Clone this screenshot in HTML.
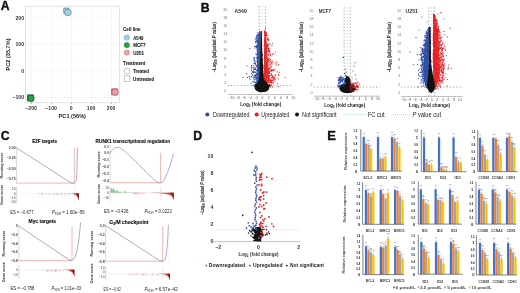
<!DOCTYPE html>
<html><head><meta charset="utf-8"><style>
html,body{margin:0;padding:0;background:#fff;overflow:hidden}
svg{display:block}
text{font-family:"Liberation Sans", "DejaVu Sans", sans-serif}
</style></head><body>
<svg width="520" height="293" viewBox="0 0 520 293">
<rect width="520" height="293" fill="#fff"/>
<text x="0.8" y="10.2" font-size="12.2" font-weight="bold" fill="#111" stroke="#111" stroke-width="0.35">A</text>
<text x="200.7" y="11.7" font-size="12.3" font-weight="bold" fill="#111" stroke="#111" stroke-width="0.35">B</text>
<text x="0.8" y="139.9" font-size="12.3" font-weight="bold" fill="#111" stroke="#111" stroke-width="0.35">C</text>
<text x="193.3" y="139.7" font-size="12.3" font-weight="bold" fill="#111" stroke="#111" stroke-width="0.35">D</text>
<text x="327.3" y="139.9" font-size="12.9" font-weight="bold" fill="#111" stroke="#111" stroke-width="0.35">E</text>
<rect x="25.3" y="6.2" width="94.10000000000001" height="96.6" fill="#fff" stroke="#cfcfcf" stroke-width="0.6"/>
<line x1="41.5" y1="6.2" x2="41.5" y2="102.8" stroke="#f4f4f4" stroke-width="0.4"/>
<line x1="61.5" y1="6.2" x2="61.5" y2="102.8" stroke="#f4f4f4" stroke-width="0.4"/>
<line x1="81.5" y1="6.2" x2="81.5" y2="102.8" stroke="#f4f4f4" stroke-width="0.4"/>
<line x1="101.5" y1="6.2" x2="101.5" y2="102.8" stroke="#f4f4f4" stroke-width="0.4"/>
<line x1="25.3" y1="31.25" x2="119.4" y2="31.25" stroke="#f4f4f4" stroke-width="0.4"/>
<line x1="25.3" y1="57.75" x2="119.4" y2="57.75" stroke="#f4f4f4" stroke-width="0.4"/>
<line x1="25.3" y1="84.25" x2="119.4" y2="84.25" stroke="#f4f4f4" stroke-width="0.4"/>
<line x1="31.5" y1="6.2" x2="31.5" y2="102.8" stroke="#ececec" stroke-width="0.5"/>
<line x1="51.5" y1="6.2" x2="51.5" y2="102.8" stroke="#ececec" stroke-width="0.5"/>
<line x1="71.5" y1="6.2" x2="71.5" y2="102.8" stroke="#ececec" stroke-width="0.5"/>
<line x1="91.5" y1="6.2" x2="91.5" y2="102.8" stroke="#ececec" stroke-width="0.5"/>
<line x1="111.5" y1="6.2" x2="111.5" y2="102.8" stroke="#ececec" stroke-width="0.5"/>
<line x1="25.3" y1="18.0" x2="119.4" y2="18.0" stroke="#ececec" stroke-width="0.5"/>
<line x1="25.3" y1="44.5" x2="119.4" y2="44.5" stroke="#ececec" stroke-width="0.5"/>
<line x1="25.3" y1="71.0" x2="119.4" y2="71.0" stroke="#ececec" stroke-width="0.5"/>
<line x1="25.3" y1="97.5" x2="119.4" y2="97.5" stroke="#ececec" stroke-width="0.5"/>
<text x="31.1" y="109.6" font-size="5.1" text-anchor="middle" font-weight="bold" fill="#333">&#8722;200</text>
<line x1="31.5" y1="102.8" x2="31.5" y2="104.0" stroke="#555" stroke-width="0.4"/>
<text x="51.1" y="109.6" font-size="5.1" text-anchor="middle" font-weight="bold" fill="#333">&#8722;100</text>
<line x1="51.5" y1="102.8" x2="51.5" y2="104.0" stroke="#555" stroke-width="0.4"/>
<text x="71.1" y="109.6" font-size="5.1" text-anchor="middle" font-weight="bold" fill="#333">0</text>
<line x1="71.5" y1="102.8" x2="71.5" y2="104.0" stroke="#555" stroke-width="0.4"/>
<text x="91.1" y="109.6" font-size="5.1" text-anchor="middle" font-weight="bold" fill="#333">100</text>
<line x1="91.5" y1="102.8" x2="91.5" y2="104.0" stroke="#555" stroke-width="0.4"/>
<text x="111.1" y="109.6" font-size="5.1" text-anchor="middle" font-weight="bold" fill="#333">200</text>
<line x1="111.5" y1="102.8" x2="111.5" y2="104.0" stroke="#555" stroke-width="0.4"/>
<text x="24.0" y="19.8" font-size="5.1" text-anchor="end" font-weight="bold" fill="#333">200</text>
<text x="24.0" y="46.3" font-size="5.1" text-anchor="end" font-weight="bold" fill="#333">100</text>
<text x="24.0" y="72.8" font-size="5.1" text-anchor="end" font-weight="bold" fill="#333">0</text>
<text x="24.0" y="99.3" font-size="5.1" text-anchor="end" font-weight="bold" fill="#333">&#8722;100</text>
<text x="72.3" y="117.5" font-size="5.6" text-anchor="middle" font-weight="bold" fill="#222">PC1 (56%)</text>
<text x="10.3" y="54.5" font-size="5.6" text-anchor="middle" font-weight="bold" fill="#222" transform="rotate(-90 10.3 54.5)">PC2 (35.7%)</text>
<rect x="63.8" y="8.1" width="5.0" height="5.0" fill="#aacfe0" stroke="#5a88a0" stroke-width="0.8"/>
<circle cx="67.9" cy="12.4" r="3.3" fill="#aacfe0" stroke="#5a88a0" stroke-width="0.8"/>
<rect x="27.5" y="94.9" width="6.0" height="6.0" fill="#2f9a48" stroke="#17642c" stroke-width="0.8"/>
<circle cx="31.0" cy="98.3" r="3.2" fill="#2f9a48" stroke="#17642c" stroke-width="0.8"/>
<rect x="111.69999999999999" y="88.89999999999999" width="5.8" height="5.8" fill="#eca2a6" stroke="#b4505a" stroke-width="0.8"/>
<circle cx="115.0" cy="92.2" r="3.3" fill="#eca2a6" stroke="#b4505a" stroke-width="0.8"/>
<text x="123.1" y="31.0" font-size="5.5" font-weight="bold" fill="#222" textLength="17.4" lengthAdjust="spacingAndGlyphs" stroke="#222" stroke-width="0.1">Cell line</text>
<circle cx="126.8" cy="37.6" r="2.7" fill="#aacfe0" stroke="#6b9fb8" stroke-width="0.5"/>
<text x="133.2" y="39.5" font-size="5.3" font-weight="bold" fill="#222" textLength="10.2" lengthAdjust="spacingAndGlyphs" stroke="#222" stroke-width="0.1">A549</text>
<circle cx="126.8" cy="45.1" r="2.7" fill="#2f9a48" stroke="#1c6e30" stroke-width="0.5"/>
<text x="133.2" y="47.0" font-size="5.3" font-weight="bold" fill="#222" textLength="12.3" lengthAdjust="spacingAndGlyphs" stroke="#222" stroke-width="0.1">MCF7</text>
<circle cx="126.8" cy="52.6" r="2.7" fill="#eca2a6" stroke="#c76a70" stroke-width="0.5"/>
<text x="133.2" y="54.5" font-size="5.3" font-weight="bold" fill="#222" textLength="10.8" lengthAdjust="spacingAndGlyphs" stroke="#222" stroke-width="0.1">U251</text>
<text x="123.1" y="64.6" font-size="5.5" font-weight="bold" fill="#222" textLength="22.3" lengthAdjust="spacingAndGlyphs" stroke="#222" stroke-width="0.1">Treatment</text>
<circle cx="127.1" cy="71.1" r="2.8" fill="#fff" stroke="#888" stroke-width="0.5"/>
<text x="133.1" y="73.0" font-size="5.3" font-weight="bold" fill="#222" textLength="16.0" lengthAdjust="spacingAndGlyphs" stroke="#222" stroke-width="0.1">Treated</text>
<rect x="124.3" y="75.8" width="5.6" height="5.6" fill="#fff" stroke="#999" stroke-width="0.5"/>
<text x="133.1" y="80.6" font-size="5.3" font-weight="bold" fill="#222" textLength="21.3" lengthAdjust="spacingAndGlyphs" stroke="#222" stroke-width="0.1">Untreated</text>
<text x="225.3" y="92.1" font-size="3.6" text-anchor="middle" fill="#777">0</text>
<text x="225.3" y="83.96" font-size="3.6" text-anchor="middle" fill="#777">2</text>
<text x="225.3" y="75.82" font-size="3.6" text-anchor="middle" fill="#777">4</text>
<text x="225.3" y="67.67999999999999" font-size="3.6" text-anchor="middle" fill="#777">6</text>
<text x="225.3" y="59.53999999999999" font-size="3.6" text-anchor="middle" fill="#777">8</text>
<text x="225.3" y="51.39999999999999" font-size="3.6" text-anchor="middle" fill="#777">10</text>
<text x="225.3" y="43.25999999999999" font-size="3.6" text-anchor="middle" fill="#777">12</text>
<text x="225.3" y="35.11999999999999" font-size="3.6" text-anchor="middle" fill="#777">14</text>
<text x="225.3" y="26.979999999999993" font-size="3.6" text-anchor="middle" fill="#777">16</text>
<text x="225.3" y="18.839999999999993" font-size="3.6" text-anchor="middle" fill="#777">18</text>
<text x="225.3" y="10.699999999999992" font-size="3.6" text-anchor="middle" fill="#777">20</text>
<text x="216.5" y="47.2" font-size="5" font-weight="bold" text-anchor="middle" fill="#333" stroke="#333" stroke-width="0.12" textLength="50" lengthAdjust="spacingAndGlyphs" transform="rotate(-90 216.5 47.2)">&#8211;Log<tspan font-size="3.5" dy="1">10</tspan><tspan dy="-1"> (adjusted </tspan><tspan font-style="italic">P</tspan> value)</text>
<text x="234.5" y="12.6" font-size="6.2" font-weight="bold" fill="#333" textLength="12.3" lengthAdjust="spacingAndGlyphs">A549</text>
<line x1="259.29999999999995" y1="6.143999999999991" x2="259.29999999999995" y2="94.5" stroke="#6f9a92" stroke-width="0.9" stroke-dasharray="1.1 2.15"/>
<line x1="265.5" y1="6.143999999999991" x2="265.5" y2="94.5" stroke="#6f9a92" stroke-width="0.9" stroke-dasharray="1.1 2.15"/>
<line x1="262.4" y1="6.143999999999991" x2="262.4" y2="94.5" stroke="#c4c4c4" stroke-width="0.7" stroke-dasharray="1.1 2.15"/>
<line x1="227.8" y1="85.509" x2="292.4" y2="85.509" stroke="#b8784a" stroke-width="0.8" stroke-dasharray="1.1 2.15"/>
<path d="M258.9 32.0 L257.4 36.0 L256.9 45.0 L256.9 55.0 L256.9 70.0 L256.4 80.0 L257.4 86.0 L259.9 89.0 L260.4 89.0 L260.4 86.0 L260.4 80.0 L260.4 70.0 L260.4 55.0 L260.4 45.0 L260.4 36.0 L260.4 32.0Z" fill="#2d4ea3" opacity="0.85"/>
<path d="M265.2 31.0 L266.2 35.0 L267.7 55.0 L268.7 70.0 L269.2 80.0 L267.2 86.0 L264.7 89.0 L264.2 89.0 L264.2 86.0 L264.2 80.0 L264.2 70.0 L264.2 55.0 L264.2 35.0 L264.2 31.0Z" fill="#e42124" opacity="0.85"/>
<path d="M259.2 76.0h0M253.9 81.7h0M259.2 77.2h0M259.0 47.1h0M253.9 60.3h0M251.3 77.0h0M258.2 43.5h0M259.1 33.5h0M258.1 67.5h0M259.9 45.4h0M258.9 71.1h0M256.4 40.0h0M260.0 68.1h0M255.0 62.4h0M259.6 34.4h0M257.1 65.2h0M258.4 70.2h0M260.0 44.9h0M258.2 87.1h0M254.4 69.4h0M259.8 64.0h0M259.8 84.8h0M257.1 82.3h0M259.7 52.8h0M259.4 58.1h0M258.7 74.6h0M257.2 32.8h0M257.8 69.2h0M256.8 81.6h0M257.8 70.7h0M259.9 75.4h0M256.2 85.1h0M258.4 78.0h0M256.4 78.3h0M255.2 77.0h0M259.4 44.1h0M255.7 41.4h0M259.5 64.3h0M254.7 86.2h0M254.9 60.9h0M258.4 74.1h0M252.4 81.9h0M258.8 35.0h0M256.3 86.2h0M256.8 70.2h0M259.4 87.4h0M259.8 42.8h0M257.3 58.8h0M257.6 58.0h0M259.2 41.7h0M255.2 75.3h0M257.5 77.5h0M260.1 84.1h0M259.9 32.2h0M255.8 85.4h0M259.8 69.2h0M255.6 64.3h0M259.7 33.9h0M253.3 77.3h0M254.7 77.2h0M257.0 82.2h0M260.0 68.0h0M254.7 69.3h0M255.3 77.6h0M259.8 81.3h0M259.6 85.8h0M260.0 36.9h0M258.9 69.4h0M259.8 52.6h0M259.0 45.3h0M260.0 64.6h0M259.9 75.3h0M256.2 38.6h0M256.5 46.6h0M258.6 67.0h0M255.5 82.3h0M255.8 76.0h0M258.6 52.5h0M259.4 74.9h0M259.8 83.0h0M255.3 77.4h0M258.6 79.9h0M255.6 68.2h0M258.2 74.9h0M260.1 52.9h0M258.6 80.0h0M259.0 62.8h0M258.6 79.2h0M259.2 88.6h0M259.9 78.9h0M258.5 37.8h0M260.1 34.9h0M257.3 49.2h0M254.3 57.4h0M259.5 82.5h0M260.0 53.9h0M256.6 38.1h0M257.2 59.1h0M259.6 46.4h0M258.1 60.9h0M259.9 81.7h0M254.2 85.6h0M258.8 43.1h0M259.3 84.1h0M259.6 65.8h0M254.7 75.1h0M256.0 72.0h0M259.8 73.7h0M252.4 74.9h0M253.8 65.6h0M260.0 40.0h0M254.2 77.6h0M252.5 71.8h0M257.3 56.1h0M255.9 79.4h0M255.2 75.6h0M256.9 58.2h0M260.0 67.6h0M259.8 65.4h0M258.1 82.0h0M257.2 74.5h0M256.5 77.8h0M256.2 78.5h0M259.2 54.6h0M258.0 74.2h0M259.0 74.8h0M253.6 79.0h0M255.4 76.5h0M257.1 80.9h0M257.3 69.6h0M259.6 55.4h0M255.0 48.0h0M259.3 51.4h0M259.4 82.6h0M255.8 82.3h0M259.9 49.2h0M254.7 79.0h0M258.2 57.6h0M257.6 42.7h0M255.1 75.7h0M260.1 78.4h0M256.6 70.6h0M258.6 46.0h0M253.1 67.6h0M259.7 47.8h0M257.4 34.9h0M259.9 72.2h0M255.4 69.1h0M259.4 74.5h0M260.0 56.4h0M259.9 38.9h0M260.0 32.5h0M258.7 58.5h0M257.0 40.4h0M256.4 54.6h0M260.1 82.8h0M255.3 69.5h0M259.1 82.4h0M256.6 66.5h0M258.1 66.3h0M254.0 71.2h0M260.0 74.8h0M259.6 38.7h0M258.7 70.5h0M256.8 45.2h0M259.4 70.8h0M256.8 85.5h0M259.3 80.1h0M259.1 75.4h0M254.4 67.5h0M258.9 67.9h0M258.7 73.0h0M255.4 72.4h0M256.3 47.2h0M259.5 57.0h0M259.7 35.5h0M259.0 41.0h0M257.6 84.5h0M260.0 60.4h0M254.3 82.3h0M260.1 81.2h0M256.3 61.3h0M257.1 35.2h0M254.5 58.2h0M259.2 49.6h0M258.5 39.9h0M257.7 86.3h0M257.1 49.8h0M257.7 62.9h0M257.6 59.5h0M257.3 78.4h0M259.4 73.6h0M257.5 52.6h0M255.5 63.4h0M259.6 84.6h0M259.2 83.8h0M255.9 42.2h0M259.0 35.1h0M259.3 56.4h0M257.9 40.4h0M260.0 60.5h0M259.8 47.5h0M259.4 38.5h0M260.1 65.0h0M257.1 45.8h0M256.0 84.2h0M259.1 45.7h0M254.4 58.6h0M253.2 71.4h0M259.5 37.0h0M254.6 85.4h0M257.6 66.5h0M256.8 57.6h0M255.6 46.4h0M254.7 85.9h0M256.9 54.5h0M259.1 58.3h0M260.1 56.1h0M255.9 74.7h0M259.5 77.5h0M257.1 47.1h0M257.8 52.7h0M257.7 41.8h0M256.3 74.9h0M259.2 64.5h0M259.9 66.4h0M252.2 72.0h0M259.9 42.7h0M258.4 86.1h0M259.2 65.9h0M260.1 50.0h0M259.8 62.9h0M260.1 50.3h0M259.8 84.8h0M259.5 72.1h0M259.2 67.9h0M260.1 32.6h0M256.3 36.8h0M260.0 50.5h0M257.2 77.2h0M259.5 66.8h0M257.5 78.4h0M257.9 34.9h0M258.1 78.1h0M256.6 41.3h0M257.7 87.7h0M258.6 54.3h0M259.4 83.0h0M260.0 85.5h0M258.2 64.6h0M254.4 60.2h0M259.9 86.0h0M257.5 67.2h0M255.5 42.3h0M258.8 62.3h0M259.5 69.3h0M259.6 53.1h0M253.6 69.1h0M259.0 86.7h0M254.2 80.9h0M255.5 84.7h0M259.2 62.4h0M258.3 35.0h0M259.8 82.6h0M257.1 87.3h0M257.5 81.9h0M259.6 42.6h0M257.0 38.3h0M260.1 84.5h0M259.9 46.3h0M258.7 64.8h0M258.9 47.8h0M255.9 83.5h0M255.9 53.9h0M259.9 70.0h0M259.9 88.5h0M259.9 86.6h0M258.9 43.4h0M260.0 65.4h0M257.1 78.0h0M254.4 67.5h0M260.0 53.6h0M251.6 73.4h0M258.5 72.8h0M256.2 76.2h0M253.5 72.7h0M259.6 58.2h0M256.5 84.3h0M254.1 86.0h0M258.2 66.1h0M259.6 41.8h0M257.9 85.3h0M256.4 86.7h0M255.3 68.8h0M257.5 35.8h0M258.5 57.1h0M257.2 48.2h0M256.8 80.7h0M253.1 75.6h0M260.1 76.7h0M259.4 72.5h0M259.7 31.7h0M257.6 78.4h0M259.2 75.1h0M256.5 36.1h0M258.6 65.7h0M258.1 53.3h0M259.1 86.2h0M254.4 72.0h0M256.5 47.4h0M260.0 66.3h0M251.7 76.6h0M259.9 81.9h0M259.9 82.4h0M259.0 59.9h0M257.9 77.5h0M259.5 84.0h0M254.3 63.2h0M260.1 35.9h0M253.2 72.3h0M259.3 45.9h0M254.0 72.5h0M257.2 51.8h0M255.4 38.9h0M254.0 63.5h0M259.2 83.9h0M256.2 41.8h0M256.1 65.7h0M259.2 33.5h0M256.6 73.7h0M254.8 46.4h0M251.0 83.6h0M251.5 70.6h0M253.0 85.0h0M251.6 65.6h0M243.1 77.5h0M249.5 78.1h0M249.9 48.5h0M254.2 86.1h0M250.1 79.5h0M251.4 67.7h0M246.7 73.7h0M249.3 76.4h0M247.6 77.4h0M247.0 65.8h0M251.7 69.1h0M253.8 58.0h0M251.7 66.9h0" stroke="#2d4ea3" stroke-width="1.2" stroke-linecap="round" opacity="1"/>
<path d="M265.7 79.1h0M269.9 86.5h0M268.3 68.6h0M269.9 81.1h0M264.4 69.6h0M269.3 76.2h0M266.1 63.1h0M266.1 50.2h0M270.9 82.2h0M265.8 51.1h0M267.6 60.4h0M268.9 69.4h0M264.4 56.0h0M265.5 58.4h0M264.5 82.5h0M271.7 65.8h0M265.1 58.2h0M268.1 76.2h0M268.7 54.4h0M265.3 73.5h0M268.5 78.0h0M270.4 81.2h0M265.7 67.3h0M264.4 46.4h0M270.8 70.5h0M264.7 69.1h0M265.3 39.5h0M272.2 77.9h0M270.8 67.5h0M269.5 72.4h0M269.4 78.6h0M265.2 59.6h0M268.6 50.5h0M274.0 69.6h0M268.4 86.0h0M271.4 80.8h0M266.1 54.9h0M264.8 39.9h0M266.4 80.1h0M264.4 40.0h0M269.2 49.3h0M267.6 72.0h0M267.9 37.7h0M264.5 48.6h0M264.4 67.8h0M270.7 71.6h0M265.9 57.8h0M267.1 76.7h0M264.6 42.3h0M269.6 73.4h0M265.4 47.3h0M267.5 45.9h0M265.1 32.6h0M269.6 69.2h0M264.7 34.4h0M268.3 77.0h0M266.7 49.3h0M264.8 80.7h0M265.5 28.2h0M264.4 76.5h0M264.8 70.0h0M267.1 86.9h0M264.8 60.6h0M264.5 31.8h0M265.2 53.3h0M264.5 77.8h0M266.5 77.3h0M264.4 78.3h0M269.1 82.1h0M272.6 80.3h0M266.0 56.1h0M264.7 78.7h0M269.9 51.4h0M265.2 72.5h0M268.5 50.7h0M264.9 44.8h0M268.5 82.7h0M270.7 62.1h0M264.7 74.4h0M264.9 41.2h0M265.4 55.4h0M266.5 48.3h0M269.0 58.3h0M268.3 59.3h0M271.5 73.9h0M264.6 68.8h0M265.1 70.7h0M264.6 73.6h0M264.4 67.1h0M265.3 39.8h0M264.9 60.4h0M269.7 71.1h0M266.0 63.2h0M264.9 59.6h0M267.4 44.2h0M265.7 54.7h0M268.5 40.3h0M269.0 49.9h0M265.8 85.1h0M267.0 50.8h0M269.4 75.7h0M268.6 51.6h0M265.2 41.9h0M271.1 67.6h0M264.5 79.2h0M266.4 63.8h0M267.1 75.7h0M265.6 57.7h0M264.7 37.8h0M265.4 35.0h0M265.1 47.1h0M265.5 54.2h0M265.7 32.2h0M272.1 64.0h0M273.4 82.0h0M264.4 78.5h0M270.5 55.6h0M265.5 40.4h0M271.5 69.9h0M272.3 76.6h0M265.4 84.7h0M268.6 49.2h0M267.5 68.6h0M264.4 48.9h0M264.8 87.3h0M273.9 78.1h0M268.3 78.9h0M265.2 61.9h0M264.9 51.4h0M269.6 82.1h0M265.3 57.9h0M266.2 86.9h0M269.2 85.7h0M274.9 77.2h0M265.2 41.1h0M264.4 71.9h0M265.0 85.5h0M270.4 78.8h0M268.2 48.3h0M273.2 75.7h0M267.1 67.0h0M264.5 65.0h0M269.7 60.4h0M264.4 78.5h0M273.5 78.2h0M266.3 81.3h0M264.7 48.4h0M267.6 48.2h0M264.9 54.0h0M265.6 56.7h0M273.6 69.9h0M268.7 58.4h0M273.6 77.8h0M268.8 73.3h0M267.3 64.7h0M273.8 78.5h0M267.9 46.1h0M265.8 42.9h0M270.5 81.6h0M270.0 66.7h0M273.0 82.7h0M266.5 35.8h0M268.6 58.3h0M265.1 73.2h0M272.7 76.8h0M265.9 58.6h0M265.1 42.1h0M274.0 70.5h0M273.2 82.0h0M268.0 38.8h0M269.5 63.0h0M268.7 51.4h0M264.6 35.4h0M267.3 72.5h0M265.5 70.3h0M266.4 33.7h0M264.4 66.7h0M273.0 83.0h0M270.3 64.3h0M264.6 66.2h0M264.5 64.9h0M267.9 35.5h0M265.1 40.8h0M272.1 76.2h0M264.6 50.0h0M264.4 68.7h0M265.4 72.8h0M266.4 80.5h0M266.3 33.3h0M268.4 58.5h0M268.8 65.0h0M265.1 35.1h0M265.9 35.0h0M266.0 73.3h0M268.8 72.3h0M266.9 81.5h0M270.5 75.5h0M267.2 70.2h0M266.9 70.1h0M264.5 58.6h0M272.1 79.9h0M266.8 63.3h0M267.0 72.8h0M264.4 41.2h0M266.4 71.7h0M268.8 80.6h0M266.7 50.8h0M264.9 57.6h0M267.7 70.5h0M269.5 50.9h0M265.6 71.8h0M275.1 79.3h0M271.6 82.6h0M265.0 76.8h0M264.6 63.1h0M270.1 86.6h0M265.8 73.9h0M265.7 33.9h0M265.9 75.2h0M271.3 85.2h0M271.0 84.0h0M271.6 70.9h0M265.5 60.7h0M264.7 80.8h0M264.8 75.1h0M264.4 45.1h0M265.2 64.8h0M270.8 79.9h0M265.9 55.5h0M269.3 51.9h0M265.7 70.5h0M264.4 43.1h0M268.3 76.1h0M266.9 71.2h0M265.0 62.9h0M270.4 85.6h0M266.4 34.7h0M269.8 80.2h0M265.3 88.5h0M269.8 73.4h0M266.2 32.4h0M264.4 65.3h0M268.8 60.5h0M272.1 62.2h0M271.7 69.6h0M266.5 45.8h0M264.4 30.8h0M267.0 73.1h0M269.2 48.0h0M268.1 59.0h0M264.5 78.1h0M264.4 56.5h0M265.9 84.1h0M272.0 60.5h0M265.4 78.4h0M268.0 67.8h0M265.9 32.0h0M268.6 75.6h0M273.9 79.7h0M265.1 82.7h0M264.6 51.7h0M264.8 81.3h0M265.1 74.4h0M264.9 55.4h0M264.4 46.0h0M270.3 82.4h0M267.8 39.9h0M275.3 75.3h0M265.7 51.8h0M267.3 45.0h0M264.6 70.5h0M264.7 85.1h0M266.3 81.0h0M266.1 76.1h0M268.2 45.5h0M271.2 84.1h0M266.3 51.3h0M264.7 41.5h0M266.0 67.2h0M271.0 62.4h0M272.0 75.9h0M264.6 61.5h0M264.9 76.6h0M269.3 78.8h0M273.7 79.9h0M266.0 81.8h0M268.9 60.2h0M270.3 82.3h0M272.9 70.3h0M264.4 57.2h0M267.3 75.7h0M265.0 68.6h0M271.1 85.1h0M266.2 71.1h0M264.7 49.7h0M264.4 54.1h0M266.8 52.0h0M269.2 77.5h0M265.7 65.4h0M264.8 79.5h0M271.7 80.4h0M269.4 68.9h0M275.2 77.1h0M264.4 66.5h0M270.6 85.5h0M266.4 81.5h0M268.9 71.0h0M265.1 70.3h0M264.5 78.9h0M273.0 80.1h0M270.4 55.5h0M265.3 65.8h0M275.3 74.6h0M267.5 62.1h0M270.1 56.0h0M271.7 77.4h0M267.7 80.5h0M264.5 82.9h0M265.4 51.1h0M264.4 39.7h0M266.4 69.0h0M269.6 85.0h0M264.4 74.5h0M267.7 39.3h0M269.8 53.1h0M264.7 52.2h0M270.4 59.6h0M264.5 31.1h0M266.5 64.9h0M264.4 65.4h0M264.4 58.0h0M265.3 41.3h0M265.9 55.3h0M267.4 86.7h0M265.9 48.3h0M264.5 83.5h0M266.3 47.1h0M264.7 79.5h0M264.4 52.7h0M264.5 86.9h0M271.7 82.0h0M265.7 43.5h0M264.4 32.3h0M267.0 46.4h0M265.7 32.6h0M269.5 69.0h0M269.7 68.4h0M266.1 33.0h0M267.8 43.9h0M265.1 68.3h0M266.5 77.1h0M275.0 81.0h0M270.2 61.6h0M270.0 64.9h0M265.8 71.6h0M264.9 53.7h0M264.4 87.4h0M264.7 46.5h0M271.9 70.1h0M264.8 62.6h0M265.4 67.9h0M269.0 48.4h0M266.7 67.1h0M269.6 69.5h0M267.5 39.1h0M264.5 85.2h0M265.3 74.2h0M264.4 80.6h0M265.5 32.1h0M264.4 77.7h0M266.2 66.0h0M274.7 78.1h0M264.6 75.5h0M264.8 52.2h0M264.5 44.5h0M268.6 61.8h0M266.6 77.1h0M267.0 66.5h0M265.7 33.8h0M265.7 43.9h0M268.2 54.9h0M268.4 71.3h0M271.8 63.5h0M266.6 80.4h0M268.4 75.7h0M264.8 31.4h0M267.9 47.4h0M264.8 62.1h0M265.0 65.3h0M265.1 66.0h0M264.4 62.1h0M268.2 44.7h0M272.6 77.5h0M272.9 70.5h0M264.4 79.0h0M270.7 54.2h0M265.7 69.5h0M271.7 74.8h0M269.3 68.9h0M265.5 52.3h0M270.0 44.1h0M276.7 65.5h0M272.5 54.1h0M278.6 86.3h0M277.5 83.6h0M277.1 71.8h0M279.2 72.3h0M273.4 62.0h0M271.9 45.3h0M278.2 78.8h0M275.5 51.8h0M272.5 43.3h0M278.4 74.3h0M278.6 64.4h0M268.7 39.5h0M275.1 69.0h0M275.7 63.9h0M269.8 43.5h0M285.0 77.6h0M278.8 75.7h0M270.6 86.7h0M272.5 86.9h0M273.7 53.9h0M276.5 62.2h0" stroke="#e42124" stroke-width="1.2" stroke-linecap="round" opacity="1"/>
<path d="M260.2 70.3h0M261.6 76.0h0M259.9 78.9h0M263.1 80.3h0M261.6 50.7h0M261.7 56.3h0M262.5 54.9h0M262.0 58.8h0M261.0 74.2h0M262.7 59.9h0M261.1 52.6h0M261.8 63.9h0M260.5 65.3h0M262.3 71.7h0M261.6 75.7h0M260.2 63.2h0M262.0 70.5h0M263.0 67.7h0M262.4 59.5h0M263.0 76.1h0M260.6 81.9h0M261.2 81.9h0M263.2 74.9h0M261.9 72.5h0M261.8 54.1h0M261.3 60.9h0M263.0 65.6h0M262.4 73.7h0M261.1 58.3h0M260.2 80.6h0M261.3 82.7h0M261.6 66.0h0M261.5 67.7h0M262.2 67.1h0M260.7 62.1h0M260.4 67.5h0M261.6 67.9h0M260.2 78.0h0M262.4 66.2h0M262.6 64.3h0M255.7 84.7h0M261.6 90.2h0M262.9 89.5h0M260.7 88.5h0M257.1 86.8h0M261.3 86.5h0M256.3 88.7h0M269.5 85.0h0M255.4 85.9h0M264.1 88.4h0M257.5 85.1h0M258.8 89.1h0M259.5 85.5h0M264.5 89.9h0M261.7 88.1h0M262.1 86.9h0M256.5 88.4h0M264.7 87.8h0M260.7 91.2h0M259.9 87.5h0M267.1 86.2h0M265.2 86.0h0M261.9 90.1h0M264.6 87.8h0M257.3 88.0h0M261.1 86.8h0M262.4 85.9h0M260.2 84.5h0M259.3 85.2h0M261.3 87.4h0M257.3 88.4h0M261.3 90.0h0M266.0 87.6h0M263.7 84.5h0M262.8 86.5h0M259.6 90.7h0M269.5 84.7h0M262.1 88.5h0M257.8 86.6h0M260.4 91.7h0M263.8 88.1h0M263.6 84.7h0M266.3 89.5h0M262.3 85.8h0M266.9 88.0h0M258.0 84.8h0M263.1 87.5h0M260.4 85.1h0M260.8 87.7h0M265.6 89.8h0M261.5 89.1h0M265.6 87.1h0M259.9 86.2h0M261.2 91.0h0M263.6 87.3h0M269.1 85.2h0M269.0 86.6h0M264.6 86.1h0M262.3 86.6h0M264.4 90.5h0M257.5 90.1h0M264.4 90.3h0M265.6 85.8h0M261.7 90.7h0M256.5 85.5h0M264.5 85.4h0M260.1 88.1h0M261.9 84.9h0M259.1 85.3h0M262.7 85.9h0M256.9 86.4h0M260.8 89.4h0M264.5 89.9h0M261.0 87.3h0M260.6 86.7h0M266.7 88.6h0M258.9 88.9h0M265.2 86.2h0M256.5 85.6h0M262.2 90.5h0M261.4 90.7h0M265.6 87.1h0M261.9 89.4h0M263.9 91.3h0M262.0 85.7h0M260.6 90.6h0M258.0 87.9h0M263.5 89.0h0M262.0 89.9h0M266.8 87.3h0" stroke="#111" stroke-width="1.3" stroke-linecap="round" opacity="1"/>
<path d="M260.6 31 L261.8 31 L262.3 55 L263.8 78 C264.5 81.5 267 82.5 268.5 84.5 C270 86.5 269.6 89.6 267.2 91.1 C264.6 92.6 259.6 92.8 256.8 91.1 C254.4 89.6 254.0 86.5 255.5 84.5 C257 82.5 259.0 81.5 259.4 78 L260.2 55 Z" fill="#111"/>
<line x1="227.8" y1="94.5" x2="292.4" y2="94.5" stroke="#a8a8a8" stroke-width="0.7"/>
<line x1="231.39999999999998" y1="94.5" x2="231.39999999999998" y2="95.5" stroke="#a8a8a8" stroke-width="0.4"/>
<text x="231.39999999999998" y="98.8" font-size="3.4" text-anchor="middle" fill="#555">&#8722;10</text>
<line x1="237.59999999999997" y1="94.5" x2="237.59999999999997" y2="95.5" stroke="#a8a8a8" stroke-width="0.4"/>
<text x="237.59999999999997" y="98.8" font-size="3.4" text-anchor="middle" fill="#555">&#8722;8</text>
<line x1="243.79999999999998" y1="94.5" x2="243.79999999999998" y2="95.5" stroke="#a8a8a8" stroke-width="0.4"/>
<text x="243.79999999999998" y="98.8" font-size="3.4" text-anchor="middle" fill="#555">&#8722;6</text>
<line x1="249.99999999999997" y1="94.5" x2="249.99999999999997" y2="95.5" stroke="#a8a8a8" stroke-width="0.4"/>
<text x="249.99999999999997" y="98.8" font-size="3.4" text-anchor="middle" fill="#555">&#8722;4</text>
<line x1="256.2" y1="94.5" x2="256.2" y2="95.5" stroke="#a8a8a8" stroke-width="0.4"/>
<text x="256.2" y="98.8" font-size="3.4" text-anchor="middle" fill="#555">&#8722;2</text>
<line x1="262.4" y1="94.5" x2="262.4" y2="95.5" stroke="#a8a8a8" stroke-width="0.4"/>
<text x="262.4" y="98.8" font-size="3.4" text-anchor="middle" fill="#555">0</text>
<line x1="268.59999999999997" y1="94.5" x2="268.59999999999997" y2="95.5" stroke="#a8a8a8" stroke-width="0.4"/>
<text x="268.59999999999997" y="98.8" font-size="3.4" text-anchor="middle" fill="#555">2</text>
<line x1="274.79999999999995" y1="94.5" x2="274.79999999999995" y2="95.5" stroke="#a8a8a8" stroke-width="0.4"/>
<text x="274.79999999999995" y="98.8" font-size="3.4" text-anchor="middle" fill="#555">4</text>
<line x1="281.0" y1="94.5" x2="281.0" y2="95.5" stroke="#a8a8a8" stroke-width="0.4"/>
<text x="281.0" y="98.8" font-size="3.4" text-anchor="middle" fill="#555">6</text>
<line x1="287.2" y1="94.5" x2="287.2" y2="95.5" stroke="#a8a8a8" stroke-width="0.4"/>
<text x="287.2" y="98.8" font-size="3.4" text-anchor="middle" fill="#555">8</text>
<line x1="293.4" y1="94.5" x2="293.4" y2="95.5" stroke="#a8a8a8" stroke-width="0.4"/>
<text x="293.4" y="98.8" font-size="3.4" text-anchor="middle" fill="#555">10</text>
<text x="240.2" y="106.0" font-size="5.6" font-weight="bold" fill="#222" textLength="41" lengthAdjust="spacingAndGlyphs">Log<tspan font-size="3.8" dy="1">2</tspan><tspan dy="-1"> (fold change)</tspan></text>
<text x="311.6" y="93.7" font-size="3.6" text-anchor="middle" fill="#777">0</text>
<text x="311.6" y="85.52" font-size="3.6" text-anchor="middle" fill="#777">2</text>
<text x="311.6" y="77.34" font-size="3.6" text-anchor="middle" fill="#777">4</text>
<text x="311.6" y="69.16000000000001" font-size="3.6" text-anchor="middle" fill="#777">6</text>
<text x="311.6" y="60.980000000000004" font-size="3.6" text-anchor="middle" fill="#777">8</text>
<text x="311.6" y="52.800000000000004" font-size="3.6" text-anchor="middle" fill="#777">10</text>
<text x="311.6" y="44.620000000000005" font-size="3.6" text-anchor="middle" fill="#777">12</text>
<text x="311.6" y="36.440000000000005" font-size="3.6" text-anchor="middle" fill="#777">14</text>
<text x="311.6" y="28.26000000000001" font-size="3.6" text-anchor="middle" fill="#777">16</text>
<text x="311.6" y="20.080000000000002" font-size="3.6" text-anchor="middle" fill="#777">18</text>
<text x="311.6" y="11.90000000000001" font-size="3.6" text-anchor="middle" fill="#777">20</text>
<text x="302.8" y="47.2" font-size="5" font-weight="bold" text-anchor="middle" fill="#333" stroke="#333" stroke-width="0.12" textLength="50" lengthAdjust="spacingAndGlyphs" transform="rotate(-90 302.8 47.2)">&#8211;Log<tspan font-size="3.5" dy="1">10</tspan><tspan dy="-1"> (adjusted </tspan><tspan font-style="italic">P</tspan> value)</text>
<text x="318.8" y="12.6" font-size="6.2" font-weight="bold" fill="#333" textLength="12.3" lengthAdjust="spacingAndGlyphs">MCF7</text>
<line x1="344.12" y1="7.328000000000003" x2="344.12" y2="96.2" stroke="#6f9a92" stroke-width="0.9" stroke-dasharray="1.1 2.15"/>
<line x1="350.28" y1="7.328000000000003" x2="350.28" y2="96.2" stroke="#6f9a92" stroke-width="0.9" stroke-dasharray="1.1 2.15"/>
<line x1="347.2" y1="7.328000000000003" x2="347.2" y2="96.2" stroke="#c4c4c4" stroke-width="0.7" stroke-dasharray="1.1 2.15"/>
<line x1="314.2" y1="87.083" x2="379.6" y2="87.083" stroke="#b8784a" stroke-width="0.8" stroke-dasharray="1.1 2.15"/>
<path d="M339.2 87.5 C339.2 91 342.5 93.2 347.5 93.2 C352.5 93.2 356 91 356 88.5 C355.8 86.5 353.5 85.5 351 85.5 L350.5 80 L349 76.5 L346 76.5 L345 80 L344.5 84 C341.5 84.3 339.2 85.5 339.2 87.5 Z" fill="#111"/>
<path d="M338.0 77.6h0M345.5 82.8h0M342.6 80.7h0M344.2 82.8h0M342.4 79.6h0M343.8 79.2h0M339.0 83.3h0M344.2 80.1h0M340.3 78.6h0M342.5 85.1h0M338.9 82.6h0M342.0 78.1h0M342.0 79.9h0M339.5 87.3h0M338.7 80.6h0M342.6 81.3h0M338.1 86.1h0M339.8 81.3h0M344.8 87.2h0M344.9 81.3h0M343.6 85.9h0M339.5 87.2h0M338.8 83.9h0M339.8 79.3h0M339.0 86.9h0M339.0 86.6h0M339.2 80.5h0M339.6 87.4h0M338.7 86.0h0M340.3 87.0h0M343.6 79.8h0M341.8 78.7h0M341.1 77.3h0M343.1 83.2h0M340.0 77.1h0M345.0 78.3h0M340.5 77.3h0M340.9 81.2h0M342.0 80.4h0M339.9 85.3h0M340.1 80.5h0M341.7 79.9h0M343.4 77.9h0M340.4 81.4h0M339.9 85.8h0M340.7 81.4h0M341.5 85.7h0M339.6 85.7h0M345.1 79.8h0M339.3 85.3h0M340.3 79.4h0M338.6 83.4h0M345.0 86.3h0M342.4 81.6h0M345.3 83.9h0M345.2 84.2h0M343.2 84.4h0M338.9 79.7h0M338.5 86.8h0M345.5 83.4h0M339.2 78.3h0M341.3 81.1h0M339.5 77.9h0M342.9 85.3h0M338.5 80.2h0M340.3 82.7h0M342.5 81.3h0M344.5 81.1h0M340.3 85.1h0M344.3 86.2h0M341.0 76.0h0M339.5 79.0h0M340.0 82.5h0M337.5 85.0h0M342.5 79.0h0M338.3 80.0h0" stroke="#2d4ea3" stroke-width="1.2" stroke-linecap="round" opacity="1"/>
<path d="M351.0 84.1h0M353.7 90.2h0M355.1 87.5h0M352.4 90.4h0M351.1 87.0h0M355.6 89.0h0M356.8 85.6h0M351.9 90.3h0M354.5 84.8h0M350.7 88.9h0M357.1 87.1h0M353.0 87.8h0M358.3 87.1h0M356.6 89.6h0M356.3 86.4h0M351.1 88.1h0M357.0 90.2h0M350.9 83.4h0M355.2 89.1h0M350.2 87.4h0M351.9 90.5h0M352.8 83.2h0M356.5 84.9h0M353.3 83.5h0M352.5 83.6h0M351.8 87.1h0M352.2 87.8h0M357.6 87.1h0M349.8 90.2h0M351.3 85.3h0M354.2 87.5h0M352.6 86.0h0M355.1 86.2h0M352.1 85.8h0M353.0 84.8h0M354.9 86.6h0M353.2 88.2h0M356.8 87.7h0M352.6 90.0h0M350.4 88.9h0M353.3 85.7h0M357.1 87.7h0M358.3 89.5h0M350.5 86.5h0M356.4 83.2h0M354.4 90.4h0M351.7 83.4h0M352.1 85.3h0M352.1 86.0h0M357.0 86.6h0M354.8 83.4h0M350.1 90.1h0M352.6 90.1h0M352.5 87.6h0M355.5 83.2h0M350.1 86.0h0M350.6 84.9h0M351.3 85.0h0M353.6 85.0h0M352.5 86.4h0M355.6 82.8h0M358.5 85.9h0M357.8 82.6h0M350.0 83.3h0M357.7 85.8h0M357.1 88.1h0M350.3 85.4h0M352.5 86.1h0M356.3 83.2h0M357.8 86.3h0M352.8 88.1h0M352.0 88.2h0M353.2 86.3h0M351.2 84.1h0M357.3 87.1h0M355.1 62.7h0M354.0 66.0h0M353.0 71.0h0M355.5 75.0h0M356.0 79.0h0M358.0 82.0h0M352.0 78.0h0M351.0 81.0h0M359.5 84.0h0M357.0 87.0h0" stroke="#e42124" stroke-width="1.2" stroke-linecap="round" opacity="1"/>
<path d="M345.3 84.6h0M347.8 87.5h0M349.0 86.5h0M345.8 92.4h0M346.4 89.9h0M346.6 90.2h0M348.8 84.5h0M353.0 85.4h0M349.2 88.7h0M342.6 89.2h0M344.5 91.7h0M347.3 91.7h0M349.9 85.1h0M348.2 89.9h0M349.6 88.0h0M345.0 85.9h0M347.1 92.1h0M345.0 92.2h0M351.4 87.1h0M348.4 89.4h0M344.4 90.8h0M349.5 91.8h0M349.0 84.5h0M352.8 86.2h0M348.6 88.5h0M350.5 91.4h0M348.5 87.4h0M349.1 89.9h0M344.5 87.6h0M343.8 84.5h0M348.3 90.7h0M347.5 89.1h0M348.0 91.5h0M351.7 86.5h0M343.2 88.6h0M347.4 88.7h0M351.4 86.7h0M343.3 91.2h0M344.4 90.8h0M341.4 86.4h0M349.6 91.6h0M349.0 86.3h0M342.5 87.0h0M351.3 87.9h0M345.8 87.1h0M346.3 87.5h0M349.0 91.4h0M350.1 90.3h0M344.2 90.0h0M348.3 85.6h0M347.1 92.5h0M352.3 88.4h0M344.9 85.9h0M352.2 89.6h0M341.5 85.1h0M349.5 89.5h0M352.7 90.0h0M349.7 91.8h0M351.9 89.4h0M350.9 84.8h0M342.6 85.7h0M345.3 86.4h0M351.5 86.8h0M348.3 90.2h0M347.0 91.9h0M352.3 88.7h0M349.1 85.3h0M340.6 88.0h0M343.6 88.1h0M347.7 90.7h0M346.1 87.5h0M344.1 87.2h0M346.6 91.2h0M345.9 91.4h0M353.3 89.5h0M347.3 87.7h0M347.1 84.7h0M346.2 88.4h0M345.8 91.8h0M347.4 88.9h0M346.8 85.3h0M347.4 89.0h0M347.2 91.8h0M344.6 91.1h0M348.1 89.1h0M343.8 85.5h0M349.2 92.3h0M353.1 84.5h0M347.0 90.2h0M347.6 86.2h0M349.2 82.5h0M346.9 76.5h0M345.9 81.2h0M347.4 82.0h0M346.1 76.0h0M347.7 83.0h0M345.8 82.1h0M347.1 78.0h0M347.3 79.4h0M348.1 81.6h0M347.4 81.5h0M345.9 80.1h0M347.2 79.2h0M347.1 83.3h0M348.5 81.7h0M346.6 76.4h0M346.8 83.5h0M347.4 81.0h0M346.8 79.1h0M346.0 78.9h0M346.3 83.3h0M347.1 81.5h0M347.0 77.4h0M346.1 79.9h0M346.8 82.1h0M343.3 57.4h0M345.5 75.0h0M346.0 72.0h0M345.2 69.0h0M344.5 73.5h0M342.0 77.0h0M346.8 78.0h0M347.5 80.0h0M345.8 81.0h0" stroke="#111" stroke-width="1.2" stroke-linecap="round" opacity="1"/>
<path d="M344.2 82.8h0M343.8 79.2h0M344.2 80.1h0M340.3 78.6h0M338.7 80.6h0M342.6 81.3h0M339.6 87.4h0M340.3 87.0h0M345.0 78.3h0M340.5 77.3h0M340.9 81.2h0M340.1 80.5h0M341.7 79.9h0M340.3 79.4h0M338.6 83.4h0M345.3 83.9h0M343.2 84.4h0M345.5 83.4h0M341.3 81.1h0M339.5 77.9h0M338.5 80.2h0M340.3 82.7h0" stroke="#2d4ea3" stroke-width="1.2" stroke-linecap="round" opacity="1"/>
<line x1="314.2" y1="96.2" x2="379.6" y2="96.2" stroke="#a8a8a8" stroke-width="0.7"/>
<line x1="316.4" y1="96.2" x2="316.4" y2="97.2" stroke="#a8a8a8" stroke-width="0.4"/>
<text x="316.4" y="100.4" font-size="3.4" text-anchor="middle" fill="#555">&#8722;10</text>
<line x1="322.56" y1="96.2" x2="322.56" y2="97.2" stroke="#a8a8a8" stroke-width="0.4"/>
<text x="322.56" y="100.4" font-size="3.4" text-anchor="middle" fill="#555">&#8722;8</text>
<line x1="328.71999999999997" y1="96.2" x2="328.71999999999997" y2="97.2" stroke="#a8a8a8" stroke-width="0.4"/>
<text x="328.71999999999997" y="100.4" font-size="3.4" text-anchor="middle" fill="#555">&#8722;6</text>
<line x1="334.88" y1="96.2" x2="334.88" y2="97.2" stroke="#a8a8a8" stroke-width="0.4"/>
<text x="334.88" y="100.4" font-size="3.4" text-anchor="middle" fill="#555">&#8722;4</text>
<line x1="341.03999999999996" y1="96.2" x2="341.03999999999996" y2="97.2" stroke="#a8a8a8" stroke-width="0.4"/>
<text x="341.03999999999996" y="100.4" font-size="3.4" text-anchor="middle" fill="#555">&#8722;2</text>
<line x1="347.2" y1="96.2" x2="347.2" y2="97.2" stroke="#a8a8a8" stroke-width="0.4"/>
<text x="347.2" y="100.4" font-size="3.4" text-anchor="middle" fill="#555">0</text>
<line x1="353.36" y1="96.2" x2="353.36" y2="97.2" stroke="#a8a8a8" stroke-width="0.4"/>
<text x="353.36" y="100.4" font-size="3.4" text-anchor="middle" fill="#555">2</text>
<line x1="359.52" y1="96.2" x2="359.52" y2="97.2" stroke="#a8a8a8" stroke-width="0.4"/>
<text x="359.52" y="100.4" font-size="3.4" text-anchor="middle" fill="#555">4</text>
<line x1="365.68" y1="96.2" x2="365.68" y2="97.2" stroke="#a8a8a8" stroke-width="0.4"/>
<text x="365.68" y="100.4" font-size="3.4" text-anchor="middle" fill="#555">6</text>
<line x1="371.84" y1="96.2" x2="371.84" y2="97.2" stroke="#a8a8a8" stroke-width="0.4"/>
<text x="371.84" y="100.4" font-size="3.4" text-anchor="middle" fill="#555">8</text>
<line x1="378.0" y1="96.2" x2="378.0" y2="97.2" stroke="#a8a8a8" stroke-width="0.4"/>
<text x="378.0" y="100.4" font-size="3.4" text-anchor="middle" fill="#555">10</text>
<text x="324.2" y="106.6" font-size="5.6" font-weight="bold" fill="#222" textLength="41" lengthAdjust="spacingAndGlyphs">Log<tspan font-size="3.8" dy="1">2</tspan><tspan dy="-1"> (fold change)</tspan></text>
<text x="399.2" y="93.7" font-size="3.6" text-anchor="middle" fill="#777">0</text>
<text x="399.2" y="85.52" font-size="3.6" text-anchor="middle" fill="#777">2</text>
<text x="399.2" y="77.34" font-size="3.6" text-anchor="middle" fill="#777">4</text>
<text x="399.2" y="69.16000000000001" font-size="3.6" text-anchor="middle" fill="#777">6</text>
<text x="399.2" y="60.980000000000004" font-size="3.6" text-anchor="middle" fill="#777">8</text>
<text x="399.2" y="52.800000000000004" font-size="3.6" text-anchor="middle" fill="#777">10</text>
<text x="399.2" y="44.620000000000005" font-size="3.6" text-anchor="middle" fill="#777">12</text>
<text x="399.2" y="36.440000000000005" font-size="3.6" text-anchor="middle" fill="#777">14</text>
<text x="399.2" y="28.26000000000001" font-size="3.6" text-anchor="middle" fill="#777">16</text>
<text x="399.2" y="20.080000000000002" font-size="3.6" text-anchor="middle" fill="#777">18</text>
<text x="399.2" y="11.90000000000001" font-size="3.6" text-anchor="middle" fill="#777">20</text>
<text x="390.6" y="47.2" font-size="5" font-weight="bold" text-anchor="middle" fill="#333" stroke="#333" stroke-width="0.12" textLength="50" lengthAdjust="spacingAndGlyphs" transform="rotate(-90 390.6 47.2)">&#8211;Log<tspan font-size="3.5" dy="1">10</tspan><tspan dy="-1"> (adjusted </tspan><tspan font-style="italic">P</tspan> value)</text>
<text x="405.6" y="12.6" font-size="6.2" font-weight="bold" fill="#333" textLength="12.3" lengthAdjust="spacingAndGlyphs">U251</text>
<line x1="428.79" y1="7.328000000000003" x2="428.79" y2="96.5" stroke="#6f9a92" stroke-width="0.9" stroke-dasharray="1.1 2.15"/>
<line x1="434.41" y1="7.328000000000003" x2="434.41" y2="96.5" stroke="#6f9a92" stroke-width="0.9" stroke-dasharray="1.1 2.15"/>
<line x1="431.6" y1="7.328000000000003" x2="431.6" y2="96.5" stroke="#c4c4c4" stroke-width="0.7" stroke-dasharray="1.1 2.15"/>
<line x1="401.2" y1="87.083" x2="462.8" y2="87.083" stroke="#b8784a" stroke-width="0.8" stroke-dasharray="1.1 2.15"/>
<path d="M428.2 29.0 L426.7 35.0 L424.1 50.0 L423.1 70.0 L423.7 80.0 L426.2 86.0 L430.5 92.0 L430.8 92.0 L429.2 86.0 L428.2 80.0 L428.6 70.0 L429.1 50.0 L429.2 35.0 L429.2 29.0Z" fill="#2d4ea3" opacity="0.9"/>
<path d="M434.4 16.0 L435.4 18.0 L437.8 30.0 L439.2 50.0 L440.0 70.0 L438.8 80.0 L436.7 86.0 L432.1 92.0 L431.8 92.0 L433.2 86.0 L433.8 80.0 L433.5 70.0 L433.2 50.0 L433.3 30.0 L433.4 18.0 L433.4 16.0Z" fill="#e42124" opacity="0.9"/>
<path d="M428.3 43.0h0M425.0 63.7h0M425.2 80.7h0M428.3 73.1h0M427.4 66.5h0M427.8 36.5h0M428.5 88.3h0M428.4 50.5h0M428.9 31.9h0M427.6 37.7h0M426.8 55.4h0M422.6 62.1h0M426.8 65.0h0M425.4 72.7h0M428.5 48.4h0M429.1 31.7h0M426.5 79.3h0M425.2 64.9h0M426.6 60.4h0M429.0 58.0h0M429.7 88.2h0M421.7 70.1h0M428.2 43.4h0M429.1 49.3h0M427.9 54.9h0M426.8 37.6h0M426.4 33.6h0M426.5 42.2h0M426.2 72.9h0M428.7 47.3h0M428.6 68.3h0M429.0 52.1h0M423.6 45.0h0M428.0 75.6h0M423.7 45.0h0M426.1 79.6h0M424.1 64.3h0M427.9 33.5h0M429.1 86.3h0M428.9 45.4h0M426.9 49.4h0M425.9 70.8h0M428.5 40.0h0M426.0 80.0h0M421.2 65.1h0M425.3 48.6h0M428.8 58.7h0M428.5 52.3h0M428.6 50.5h0M425.8 77.0h0M424.7 81.2h0M428.7 84.0h0M429.1 35.6h0M428.3 77.2h0M427.1 55.8h0M426.3 56.8h0M428.5 67.5h0M421.6 65.0h0M428.9 40.9h0M427.1 59.4h0M424.5 71.7h0M427.8 42.3h0M427.2 60.1h0M429.0 40.8h0M428.5 46.7h0M426.8 74.8h0M428.7 31.4h0M426.2 74.7h0M429.1 43.1h0M429.1 85.9h0M426.1 74.1h0M424.5 46.1h0M426.8 35.0h0M427.6 38.4h0M429.0 59.5h0M428.9 62.5h0M427.4 62.5h0M424.5 62.0h0M429.1 44.5h0M425.9 44.4h0M427.1 71.8h0M421.9 57.2h0M422.4 64.2h0M429.0 58.2h0M428.5 45.3h0M421.6 72.0h0M425.8 79.7h0M428.8 43.8h0M428.9 34.2h0M428.5 70.7h0M425.0 54.4h0M428.9 41.4h0M428.1 58.3h0M428.9 61.3h0M427.6 49.1h0M426.9 81.5h0M428.9 62.6h0M426.1 50.6h0M428.0 72.1h0M427.7 55.7h0M429.1 29.2h0M425.7 52.3h0M426.2 85.4h0M422.4 59.1h0M429.1 42.7h0M429.1 50.4h0M429.0 57.8h0M427.7 57.8h0M428.7 84.3h0M424.2 45.4h0M422.3 58.8h0M426.5 59.2h0M428.5 59.5h0M428.8 50.3h0M428.0 44.7h0M422.5 51.2h0M428.9 47.0h0M426.8 85.0h0M426.4 41.7h0M425.7 38.1h0M428.9 37.6h0M422.8 56.7h0M426.3 72.9h0M424.3 70.8h0M422.5 59.7h0M423.7 45.3h0M427.5 41.9h0M423.0 78.7h0M428.9 52.8h0M425.3 45.4h0M428.5 57.5h0M426.8 32.1h0M429.1 41.7h0M428.4 55.0h0M429.0 54.4h0M428.2 78.1h0M429.0 47.7h0M422.7 76.9h0M428.1 80.2h0M426.2 35.8h0M423.9 48.0h0M429.0 46.0h0M425.1 43.6h0M427.6 30.1h0M423.6 51.9h0M428.5 28.3h0M425.9 71.5h0M428.7 65.8h0M428.5 49.7h0M428.2 38.6h0M429.0 88.3h0M429.1 42.5h0M429.1 32.2h0M421.5 69.2h0M424.7 79.2h0M429.1 88.9h0M428.2 57.3h0M424.5 39.9h0M422.1 49.6h0M428.3 64.9h0M425.8 68.7h0M422.7 52.8h0M428.9 46.9h0M428.8 46.9h0M424.3 44.2h0M429.0 56.0h0M428.5 30.3h0M426.4 45.8h0M426.0 66.6h0M429.0 56.6h0M429.1 42.2h0M428.5 48.3h0M429.8 88.6h0M425.0 68.0h0M424.7 54.2h0M428.8 55.0h0M429.0 47.5h0M428.4 87.1h0M420.1 69.0h0M426.5 37.6h0M426.1 42.5h0M427.8 45.7h0M422.2 70.9h0M427.5 73.4h0M421.8 56.6h0M429.0 46.0h0M422.4 72.0h0M427.8 61.6h0M427.4 65.2h0M421.7 58.9h0M423.3 49.8h0M422.7 76.6h0M422.1 62.6h0M427.3 64.7h0M427.6 51.6h0M423.7 73.0h0M422.7 80.7h0M428.4 28.3h0M428.5 52.5h0M422.0 67.9h0M426.6 50.8h0M421.7 49.4h0M426.5 84.2h0M425.0 84.6h0M425.3 68.1h0M422.2 73.1h0M424.3 46.1h0M425.2 55.7h0M428.2 84.2h0M423.2 67.8h0M428.1 79.6h0M427.7 75.2h0M429.0 30.7h0M429.1 44.8h0M429.1 38.1h0M425.1 40.4h0M428.7 83.7h0M427.9 44.5h0M424.9 64.1h0M428.1 82.9h0M428.7 67.0h0M428.6 57.2h0M427.8 50.4h0M428.7 53.3h0M427.6 77.1h0M426.9 44.2h0M428.7 37.8h0M421.3 79.7h0M429.1 42.3h0M428.0 52.4h0M428.5 89.2h0M427.8 44.4h0M425.4 61.2h0M426.4 31.4h0M428.7 43.4h0M427.1 69.0h0M429.1 47.9h0M428.8 32.8h0M428.9 62.7h0M428.3 81.4h0M427.9 80.1h0M427.8 88.3h0M428.3 46.9h0M427.1 86.0h0M429.1 36.1h0M423.5 69.1h0M428.0 77.3h0M422.0 67.0h0M427.9 75.1h0M424.3 75.7h0M425.6 84.9h0M428.0 68.9h0M427.5 48.3h0M424.0 69.1h0M424.3 49.5h0M421.2 53.8h0M424.7 76.9h0M427.5 51.0h0M427.1 79.8h0M428.7 89.8h0M421.1 66.7h0M423.9 55.2h0M426.2 82.8h0M429.1 33.0h0M421.7 74.8h0M427.0 32.1h0M423.9 54.2h0M426.1 46.7h0M424.5 63.0h0M425.6 44.4h0M426.4 66.0h0M426.8 87.3h0M428.0 88.2h0M427.8 44.7h0M420.8 72.4h0M428.3 49.2h0M429.0 28.4h0M423.8 70.7h0M428.8 55.8h0M428.6 56.6h0M427.9 72.1h0M424.7 74.5h0M428.6 47.9h0M422.0 50.0h0M428.9 49.1h0M428.6 70.6h0M421.9 49.4h0M426.6 35.6h0M428.0 34.4h0M424.8 77.6h0M427.8 81.4h0M427.1 37.4h0M428.9 86.4h0M424.4 39.8h0M428.1 76.2h0M427.0 76.9h0M428.2 64.9h0M429.0 54.3h0M426.9 70.9h0M425.5 58.7h0M429.9 91.6h0M425.8 33.5h0M427.0 73.8h0M427.8 77.9h0M425.6 58.9h0M428.7 62.3h0M428.2 29.8h0M421.2 55.2h0M428.4 34.3h0M425.6 62.5h0M428.2 46.8h0M426.0 63.1h0M426.2 58.1h0M428.6 64.2h0M424.5 75.9h0M422.1 53.0h0M422.6 56.9h0M423.0 62.7h0M428.5 33.7h0M426.0 61.6h0M426.3 33.7h0M425.2 76.1h0M430.1 91.6h0M426.3 82.9h0M425.9 82.9h0M428.3 43.5h0M427.6 42.3h0M428.5 66.9h0M421.7 70.0h0M422.3 65.7h0M428.9 61.1h0M426.2 83.2h0M425.8 51.4h0M428.8 34.6h0M423.3 63.4h0M427.8 69.4h0M427.8 38.3h0M426.0 50.0h0M423.7 56.3h0M422.6 53.7h0M428.3 53.6h0M428.3 43.6h0M426.9 38.0h0M429.0 37.3h0M426.5 46.2h0M423.7 57.6h0M427.3 68.3h0M423.9 75.6h0M422.7 75.0h0M428.7 65.4h0M428.6 70.7h0M429.0 48.6h0M428.2 82.1h0M422.5 48.4h0M425.3 49.0h0M426.3 32.5h0M427.5 50.0h0M429.1 38.1h0M428.0 53.1h0M423.6 72.9h0M427.9 72.4h0M428.6 40.5h0M426.7 84.5h0M425.1 37.5h0M428.2 30.0h0M427.2 74.5h0M425.0 35.5h0M428.5 81.8h0M427.9 29.4h0M425.4 61.4h0M428.3 65.6h0M424.6 55.5h0M425.2 45.1h0M428.1 50.2h0M425.8 58.8h0M428.3 76.8h0M422.4 50.2h0M428.4 73.2h0M428.1 67.0h0M423.5 67.3h0M426.5 33.6h0M423.0 65.3h0M428.1 69.1h0M428.4 73.3h0M422.5 74.5h0M427.9 70.4h0M428.4 38.5h0M421.2 76.5h0M422.4 70.8h0M423.2 68.2h0M428.5 49.1h0M428.8 55.7h0M422.2 60.4h0M426.9 81.9h0M423.2 79.1h0M429.1 31.4h0M421.4 55.3h0M423.8 81.2h0M429.1 51.0h0M428.4 57.4h0M427.2 46.5h0M423.0 61.1h0M427.8 43.7h0M428.7 42.3h0M426.2 62.0h0M428.3 53.8h0M427.0 72.8h0M425.3 40.9h0M429.0 42.6h0M426.1 66.9h0M424.9 79.7h0M428.9 42.8h0M425.5 84.2h0M427.7 57.4h0M428.3 82.2h0M428.6 63.3h0M428.2 75.5h0M427.2 32.7h0M429.1 36.4h0M422.9 71.1h0M424.3 66.8h0M426.5 49.7h0M424.9 44.7h0M428.6 63.9h0M429.5 90.9h0M423.6 78.5h0M429.0 89.2h0M423.8 83.3h0M421.6 57.6h0M426.6 63.1h0M428.3 46.0h0M426.0 40.1h0M426.2 50.9h0M426.1 58.1h0M426.3 72.9h0M428.6 69.0h0M428.4 74.6h0M429.0 48.1h0M429.2 33.3h0M428.5 36.6h0M425.4 75.7h0M429.0 57.4h0M425.4 79.9h0M427.9 75.4h0M427.6 79.1h0M426.9 45.7h0M428.7 37.8h0M426.5 37.7h0M428.3 47.5h0M428.4 45.8h0M428.0 58.8h0M428.1 40.5h0M428.4 34.7h0M427.5 65.0h0M427.9 71.0h0M428.0 42.6h0M426.3 81.0h0M423.0 49.7h0M429.1 34.6h0M428.5 68.8h0M428.4 75.7h0M427.9 65.2h0M428.6 56.7h0M424.4 51.4h0M429.0 86.0h0M423.5 53.2h0M426.9 51.1h0M428.9 63.7h0M422.4 74.8h0M427.2 43.0h0M428.3 86.0h0M428.3 54.0h0M421.7 53.8h0M428.9 49.9h0M428.3 75.7h0M425.3 55.9h0M421.0 51.5h0M420.0 72.4h0M422.8 59.9h0M429.1 50.7h0M425.1 58.8h0M426.5 63.8h0M427.4 70.4h0M421.0 76.7h0M427.5 57.4h0M423.6 56.9h0M425.4 84.3h0M428.5 72.1h0M428.8 57.9h0M421.5 60.8h0M428.3 69.9h0M429.2 27.2h0M423.0 52.0h0M422.2 53.6h0M428.3 68.0h0M423.4 74.3h0M428.6 40.6h0M422.8 49.1h0M427.1 45.4h0M428.7 65.9h0M426.3 66.9h0M426.3 44.2h0M426.1 73.3h0M428.9 58.7h0M428.7 49.9h0M426.8 50.8h0M424.7 78.6h0M424.5 65.0h0M426.6 67.8h0M425.5 76.8h0M426.4 31.4h0M428.9 53.2h0M423.6 64.1h0M428.2 47.3h0M424.3 60.2h0M428.7 62.1h0M428.2 75.9h0M424.5 57.7h0M426.8 56.9h0M429.2 28.3h0M427.9 72.0h0M427.9 47.0h0M425.5 62.4h0M422.4 78.3h0M428.6 47.2h0M428.9 39.1h0M428.3 37.7h0M425.9 76.7h0M427.6 69.7h0M421.2 59.7h0M425.2 80.1h0M429.0 34.8h0M423.6 69.9h0M428.7 50.2h0M428.4 73.7h0M424.5 78.9h0M427.0 55.0h0M425.3 49.9h0M426.8 52.2h0M428.9 57.5h0M426.4 39.1h0M424.5 73.6h0M427.8 48.9h0M429.0 53.0h0M426.8 67.0h0M420.3 72.3h0M426.2 69.6h0M429.4 86.9h0M429.1 30.3h0M424.1 77.1h0M423.4 63.2h0M428.2 38.0h0M425.6 71.2h0M425.5 66.5h0M425.0 81.8h0M425.7 60.0h0M429.0 36.1h0M424.5 61.8h0M429.0 40.5h0M427.9 69.5h0M425.1 47.9h0M426.4 86.3h0M420.9 65.2h0M428.1 38.7h0M425.5 42.9h0M425.3 61.2h0M426.9 43.4h0M425.0 44.1h0M422.9 76.4h0M424.9 63.7h0M424.7 68.0h0M428.2 52.7h0M421.0 58.6h0M428.7 66.6h0M424.1 76.5h0M424.2 64.7h0M428.4 61.6h0M426.0 61.7h0M426.3 43.7h0M426.4 41.7h0M426.5 77.3h0M427.1 70.0h0M428.6 63.8h0M425.4 86.1h0M424.0 81.9h0M422.6 50.0h0M423.2 45.6h0M427.5 78.8h0M429.0 58.7h0M429.8 89.2h0M428.0 81.1h0M427.3 70.9h0M427.5 60.6h0M427.4 50.3h0M424.0 42.0h0M426.9 68.5h0M421.3 57.3h0M428.2 86.6h0M428.5 47.3h0M423.6 50.8h0M428.6 64.2h0M423.0 69.3h0M425.8 35.9h0M424.2 66.4h0M428.8 63.1h0M424.7 66.9h0M427.2 69.0h0M424.9 36.3h0M423.7 51.9h0M427.3 32.4h0M428.2 80.1h0M424.1 40.4h0M425.3 69.5h0M429.1 48.2h0M428.6 53.9h0M428.4 69.1h0M423.5 82.8h0M422.0 49.4h0M427.9 80.3h0M428.7 67.0h0M425.2 61.2h0M426.9 56.5h0M429.1 28.7h0M428.8 37.4h0M428.2 72.5h0M425.6 44.7h0M428.5 45.2h0M427.9 51.7h0M424.4 73.1h0M428.9 49.6h0M428.8 85.5h0M428.5 83.1h0M426.2 77.3h0M420.9 55.4h0M426.1 53.2h0M425.5 60.1h0M422.4 72.6h0M423.4 68.5h0M422.0 64.7h0M420.9 65.4h0M420.1 54.4h0M423.4 85.9h0M420.3 83.0h0M422.0 82.9h0M418.5 74.8h0M417.5 64.6h0M419.6 76.2h0M417.9 86.8h0M417.5 54.7h0M413.3 64.6h0M418.5 70.4h0M421.3 81.1h0M418.3 78.6h0M420.7 47.7h0M418.4 73.8h0M419.0 59.8h0M426.1 87.6h0M421.8 86.1h0M422.0 17.0h0M427.0 22.0h0M416.0 37.4h0M419.0 30.0h0M410.0 52.0h0" stroke="#2d4ea3" stroke-width="1.2" stroke-linecap="round" opacity="1"/>
<path d="M433.8 44.5h0M434.3 68.3h0M440.6 52.6h0M440.6 41.9h0M434.2 51.9h0M437.7 68.2h0M433.7 81.3h0M433.3 62.0h0M436.8 36.4h0M439.3 80.7h0M434.9 39.9h0M433.8 27.2h0M443.5 60.6h0M443.2 73.9h0M433.5 54.0h0M436.2 38.4h0M434.3 67.3h0M435.5 57.3h0M437.4 31.0h0M443.5 70.0h0M434.0 17.4h0M438.3 76.7h0M435.5 28.2h0M436.1 24.5h0M439.6 43.3h0M433.4 25.5h0M439.4 45.8h0M437.2 39.8h0M435.8 54.9h0M442.2 61.6h0M439.3 72.1h0M435.9 42.3h0M438.3 71.3h0M436.6 31.1h0M433.0 91.1h0M434.1 44.0h0M440.6 67.9h0M436.5 35.6h0M434.8 29.7h0M435.8 50.8h0M438.0 34.8h0M442.8 67.2h0M441.6 80.5h0M434.2 54.6h0M433.3 44.2h0M439.2 70.2h0M433.6 71.1h0M438.9 57.9h0M439.7 69.5h0M441.8 77.3h0M436.7 57.9h0M439.7 80.4h0M434.0 86.0h0M441.7 57.6h0M435.0 55.2h0M434.0 67.2h0M442.1 60.2h0M438.3 58.1h0M433.8 53.4h0M434.0 36.4h0M437.2 65.0h0M436.7 80.3h0M438.8 68.7h0M435.0 57.4h0M437.5 40.4h0M435.4 54.8h0M439.1 36.3h0M433.2 60.2h0M437.2 82.5h0M435.2 57.3h0M435.2 87.3h0M440.1 80.8h0M442.3 48.2h0M434.5 44.0h0M437.2 49.5h0M439.5 79.5h0M440.3 45.7h0M434.3 50.9h0M440.4 67.0h0M436.7 52.4h0M437.6 80.9h0M436.8 34.8h0M438.7 28.9h0M438.0 29.7h0M436.2 47.2h0M435.2 65.8h0M434.4 59.8h0M438.1 74.9h0M433.8 75.0h0M433.6 64.7h0M442.1 52.8h0M438.9 69.8h0M436.4 68.0h0M436.4 19.2h0M433.9 80.3h0M435.6 62.7h0M433.3 43.5h0M435.6 50.7h0M441.4 57.1h0M434.6 76.0h0M437.3 77.6h0M433.9 63.4h0M435.4 66.4h0M437.1 55.4h0M438.6 50.1h0M438.1 76.5h0M437.6 29.2h0M438.7 31.4h0M438.2 33.4h0M436.5 78.0h0M433.4 56.4h0M442.8 72.3h0M439.2 48.9h0M437.4 72.9h0M436.4 44.2h0M439.4 59.1h0M440.7 57.6h0M438.5 68.8h0M434.0 73.9h0M438.5 30.2h0M436.9 76.5h0M434.8 64.8h0M433.5 46.3h0M434.1 15.2h0M432.7 89.2h0M433.5 67.2h0M435.0 83.2h0M443.1 72.9h0M433.3 60.2h0M434.2 64.2h0M433.9 26.9h0M438.4 41.7h0M436.1 50.0h0M434.1 64.8h0M433.4 43.2h0M433.7 16.6h0M433.3 55.4h0M433.4 25.3h0M433.6 37.2h0M433.8 62.0h0M435.4 83.4h0M436.8 51.3h0M433.5 19.2h0M434.4 31.4h0M433.9 51.7h0M434.1 30.9h0M433.3 35.7h0M435.2 81.3h0M434.0 63.2h0M435.1 67.9h0M436.5 62.0h0M435.9 44.2h0M436.2 47.8h0M434.5 78.0h0M436.5 74.1h0M437.1 86.7h0M440.2 41.3h0M434.6 66.5h0M434.4 18.1h0M436.3 28.8h0M436.4 20.6h0M435.3 17.2h0M441.6 66.8h0M437.8 30.3h0M437.3 63.7h0M434.7 20.4h0M433.9 79.9h0M435.0 20.9h0M442.1 69.0h0M437.7 67.2h0M443.7 66.0h0M437.4 23.7h0M433.8 45.6h0M437.1 53.8h0M434.8 65.9h0M435.0 74.4h0M433.8 71.3h0M437.7 77.0h0M433.2 57.7h0M433.6 21.6h0M433.6 67.2h0M440.0 55.3h0M436.5 39.7h0M437.7 31.6h0M433.1 86.8h0M438.0 37.9h0M435.4 67.1h0M433.4 17.8h0M438.4 77.7h0M436.8 65.0h0M434.9 39.6h0M436.6 73.5h0M442.3 50.6h0M435.5 35.5h0M434.3 88.5h0M442.5 56.1h0M435.5 59.6h0M434.0 72.4h0M433.4 44.4h0M438.0 39.1h0M433.6 61.7h0M436.3 62.4h0M436.8 48.8h0M439.5 59.0h0M433.8 22.9h0M434.5 53.4h0M438.6 37.6h0M434.5 44.2h0M438.2 57.9h0M433.7 46.9h0M440.2 34.9h0M444.2 68.3h0M436.8 22.3h0M436.0 19.6h0M433.4 14.2h0M434.2 69.5h0M436.3 30.4h0M436.7 33.9h0M434.0 72.6h0M433.9 33.2h0M433.6 55.7h0M434.2 65.2h0M442.8 71.5h0M438.3 32.1h0M439.9 48.3h0M439.0 74.1h0M433.7 31.6h0M440.0 67.2h0M434.4 34.8h0M434.5 78.3h0M434.5 36.7h0M437.2 40.5h0M433.6 58.7h0M433.3 60.1h0M441.3 64.1h0M443.0 66.2h0M434.8 24.3h0M433.6 89.3h0M436.0 85.7h0M437.0 67.9h0M433.3 49.6h0M442.6 77.1h0M437.2 37.8h0M434.0 37.7h0M439.9 74.1h0M439.2 68.0h0M442.2 68.9h0M434.3 74.4h0M435.6 20.7h0M433.4 37.8h0M433.6 72.6h0M436.4 72.3h0M433.4 50.1h0M438.4 76.0h0M440.0 32.4h0M441.3 75.2h0M438.9 67.9h0M436.8 79.8h0M433.8 57.7h0M434.2 67.2h0M441.0 47.5h0M435.0 46.3h0M437.4 81.6h0M435.8 34.9h0M433.8 43.5h0M438.6 50.6h0M433.6 14.4h0M434.3 49.6h0M437.3 39.0h0M436.4 52.1h0M440.9 63.7h0M438.5 72.4h0M435.0 27.6h0M435.6 27.4h0M432.8 90.1h0M433.2 58.8h0M437.5 68.7h0M435.8 66.1h0M434.6 85.2h0M438.2 27.8h0M439.5 35.6h0M440.3 48.2h0M441.7 53.8h0M443.4 72.2h0M441.6 49.5h0M438.9 46.7h0M436.6 57.9h0M440.6 66.0h0M434.4 75.9h0M434.7 83.3h0M441.5 45.4h0M437.4 55.5h0M433.5 21.0h0M443.3 52.8h0M437.9 43.9h0M440.8 70.8h0M437.2 21.3h0M442.7 64.8h0M433.4 43.0h0M434.5 64.0h0M434.9 73.5h0M444.1 65.2h0M439.7 38.7h0M434.6 82.1h0M434.9 53.8h0M433.9 74.1h0M437.3 37.7h0M438.0 68.9h0M434.3 80.7h0M436.3 46.8h0M435.4 75.0h0M433.2 54.2h0M437.7 39.6h0M436.0 47.3h0M439.1 42.8h0M437.3 50.4h0M433.5 55.6h0M435.7 45.1h0M434.4 15.3h0M435.3 56.6h0M434.4 31.0h0M442.3 49.2h0M436.6 32.1h0M434.4 25.2h0M433.5 35.4h0M437.3 64.2h0M436.8 26.4h0M434.1 41.3h0M436.4 56.1h0M434.4 60.4h0M433.3 34.8h0M435.0 26.6h0M435.6 54.2h0M441.7 69.0h0M433.7 75.0h0M434.2 60.2h0M435.9 30.3h0M433.7 44.0h0M441.8 60.4h0M433.4 35.9h0M436.6 58.2h0M441.8 72.5h0M435.1 31.0h0M438.5 34.4h0M433.3 61.5h0M438.8 80.7h0M433.3 55.2h0M439.1 46.8h0M436.7 69.2h0M434.0 28.7h0M434.7 45.5h0M434.9 88.9h0M435.9 74.8h0M434.6 34.3h0M434.1 44.8h0M437.3 36.6h0M442.1 72.5h0M433.2 57.4h0M433.9 70.7h0M440.4 61.2h0M433.4 44.8h0M434.5 89.0h0M433.4 36.0h0M436.1 45.4h0M434.8 82.0h0M433.7 15.4h0M437.4 64.2h0M433.7 53.1h0M435.1 51.0h0M442.4 78.3h0M433.2 57.6h0M435.0 63.2h0M435.0 84.4h0M433.9 75.0h0M435.3 15.9h0M436.7 45.2h0M434.1 77.2h0M442.5 59.3h0M434.7 30.7h0M441.4 51.2h0M435.0 51.0h0M439.4 41.6h0M433.5 35.8h0M435.3 55.5h0M442.0 51.0h0M439.8 78.3h0M441.9 71.6h0M434.2 74.9h0M433.7 16.4h0M434.7 69.6h0M441.8 70.2h0M440.0 77.3h0M438.6 50.5h0M434.2 50.3h0M439.1 48.1h0M440.8 75.2h0M439.6 42.3h0M438.6 54.9h0M433.4 66.2h0M433.4 53.4h0M438.5 49.8h0M439.6 31.1h0M439.7 80.2h0M439.9 77.4h0M433.6 43.8h0M436.3 60.1h0M436.9 38.7h0M434.9 64.6h0M434.0 47.4h0M436.0 46.4h0M434.7 79.0h0M443.8 66.5h0M437.5 54.1h0M441.8 51.2h0M439.4 61.7h0M436.3 64.3h0M435.2 35.7h0M434.4 47.0h0M436.3 38.3h0M433.5 21.2h0M433.6 69.1h0M439.8 78.1h0M436.1 39.0h0M434.0 65.4h0M434.7 83.6h0M438.1 29.0h0M436.6 70.4h0M434.7 51.5h0M436.6 72.2h0M443.7 65.5h0M436.5 40.3h0M433.5 69.5h0M438.5 57.7h0M433.2 55.1h0M434.4 38.2h0M434.5 43.6h0M435.6 80.4h0M435.3 63.3h0M433.5 44.3h0M433.3 62.7h0M433.6 27.2h0M433.4 59.4h0M444.2 68.0h0M443.7 69.6h0M435.2 70.1h0M435.2 20.2h0M434.1 51.2h0M433.9 41.6h0M438.3 46.9h0M433.3 36.9h0M436.5 34.5h0M442.7 58.9h0M443.3 70.8h0M439.8 55.3h0M433.8 88.5h0M433.5 68.0h0M433.5 51.7h0M438.2 26.6h0M436.0 57.7h0M434.7 18.3h0M444.1 68.2h0M434.1 50.3h0M441.2 81.5h0M436.4 53.1h0M437.7 79.0h0M435.9 88.2h0M438.2 54.7h0M441.9 44.6h0M433.2 52.1h0M435.2 58.8h0M433.7 72.7h0M440.0 79.5h0M437.6 77.9h0M435.3 50.3h0M437.6 50.9h0M438.1 63.1h0M433.8 65.2h0M441.9 64.9h0M440.5 62.2h0M437.4 30.6h0M438.7 67.8h0M437.8 85.8h0M440.4 38.2h0M442.8 76.1h0M433.2 53.7h0M433.4 39.1h0M442.3 64.4h0M432.9 90.8h0M433.3 61.4h0M433.4 61.2h0M436.8 45.9h0M436.3 60.3h0M435.6 82.5h0M433.5 36.8h0M433.6 88.0h0M434.9 42.1h0M443.3 56.1h0M435.0 81.8h0M440.9 56.7h0M438.9 77.8h0M433.3 43.3h0M434.0 80.2h0M435.5 33.5h0M443.4 61.0h0M434.1 88.9h0M439.4 66.0h0M433.4 40.3h0M433.3 35.6h0M435.9 50.9h0M435.2 65.3h0M437.7 43.8h0M434.4 15.2h0M438.7 42.9h0M433.5 82.9h0M435.1 45.3h0M440.1 60.5h0M433.6 82.4h0M435.0 49.2h0M433.7 22.6h0M439.5 81.4h0M433.5 86.0h0M439.5 32.9h0M435.0 36.2h0M434.7 70.2h0M436.9 24.8h0M434.6 89.2h0M433.9 71.3h0M440.1 81.5h0M437.4 53.4h0M440.1 48.7h0M433.9 64.3h0M441.3 66.1h0M441.5 40.8h0M434.5 52.4h0M436.4 81.9h0M434.2 23.5h0M439.3 47.1h0M434.7 50.1h0M437.3 25.2h0M434.0 68.1h0M443.5 68.2h0M433.3 45.3h0M439.3 31.1h0M433.4 89.5h0M434.4 16.5h0M441.8 55.1h0M437.1 76.9h0M435.3 54.0h0M434.8 58.1h0M440.8 48.4h0M437.5 33.1h0M434.9 55.9h0M434.2 25.4h0M442.2 73.8h0M436.9 26.6h0M435.1 86.7h0M436.8 55.9h0M442.9 59.4h0M433.4 20.4h0M436.2 19.2h0M434.3 38.6h0M433.8 44.8h0M438.5 29.7h0M436.8 40.8h0M434.8 51.3h0M433.7 39.5h0M435.5 34.0h0M441.0 40.2h0M438.3 56.0h0M433.6 67.4h0M442.3 78.2h0M434.5 37.5h0M439.6 41.4h0M436.1 81.9h0M435.8 81.9h0M434.2 33.0h0M433.8 78.3h0M435.4 84.3h0M443.1 69.3h0M433.3 40.4h0M438.4 84.2h0M442.6 76.5h0M433.4 20.7h0M433.3 60.2h0M433.4 52.5h0M436.5 63.8h0M433.3 40.7h0M438.6 59.1h0M434.3 64.0h0M441.0 53.1h0M433.3 38.7h0M435.1 84.4h0M441.2 72.0h0M433.9 69.2h0M434.0 74.6h0M434.8 45.1h0M433.8 67.4h0M438.6 64.7h0M433.6 87.7h0M434.1 43.1h0M435.6 75.8h0M434.4 39.7h0M433.7 76.4h0M434.2 54.8h0M437.7 36.8h0M437.0 56.7h0M435.6 43.7h0M433.4 85.6h0M434.7 20.5h0M438.2 59.4h0M436.6 42.9h0M436.8 74.4h0M436.4 57.6h0M436.7 32.8h0M434.6 19.4h0M436.6 54.0h0M438.5 48.8h0M443.4 69.7h0M436.8 42.9h0M436.5 35.3h0M441.2 53.3h0M442.4 65.0h0M434.2 28.0h0M442.2 63.4h0M434.2 79.5h0M437.8 73.0h0M438.7 83.0h0M436.8 82.7h0M435.9 31.8h0M440.6 38.7h0M436.7 76.9h0M440.2 57.6h0M436.4 85.9h0M437.3 75.2h0M436.6 57.2h0M434.0 15.5h0M434.7 50.0h0M435.1 36.4h0M433.6 16.7h0M440.1 69.9h0M436.6 70.7h0M436.5 48.3h0M433.4 66.0h0M436.2 69.5h0M435.8 33.7h0M437.9 47.8h0M438.6 83.6h0M434.6 40.9h0M437.0 20.3h0M435.6 54.5h0M433.4 34.2h0M434.2 28.8h0M438.2 34.5h0M433.4 19.6h0M436.6 74.5h0M433.8 81.7h0M436.2 23.4h0M439.0 63.9h0M437.3 58.9h0M437.2 58.6h0M441.0 36.9h0M434.9 61.6h0M433.4 14.9h0M434.2 31.0h0M440.0 65.0h0M439.3 72.7h0M433.4 49.8h0M439.8 45.2h0M437.1 69.7h0M436.8 34.4h0M442.1 49.9h0M434.9 42.6h0M443.0 64.7h0M440.9 67.6h0M442.0 77.1h0M433.6 83.5h0M434.0 44.2h0M433.7 71.7h0M433.7 56.4h0M441.9 50.7h0M442.8 53.0h0M440.3 59.3h0M434.6 68.3h0M436.9 22.6h0M436.2 38.5h0M433.5 25.1h0M435.9 70.6h0M433.7 83.8h0M433.4 23.2h0M439.1 68.9h0M438.7 58.0h0M437.2 75.3h0M433.4 33.6h0M434.0 19.7h0M434.7 55.1h0M435.4 62.6h0M438.0 51.2h0M434.8 83.1h0M439.5 44.5h0M434.7 20.6h0M439.6 58.3h0M434.4 82.7h0M440.3 80.3h0M438.3 69.2h0M433.4 52.7h0M433.5 34.5h0M433.4 58.1h0M437.2 74.1h0M439.2 72.8h0M436.3 54.7h0M441.6 58.0h0M434.0 18.9h0M439.8 74.8h0M434.7 60.2h0M436.1 45.4h0M436.7 74.4h0M434.2 70.5h0M437.7 66.7h0M434.6 81.2h0M436.2 48.1h0M434.7 66.1h0M434.6 81.3h0M438.2 26.2h0M437.3 78.8h0M433.6 87.5h0M437.2 37.5h0M433.8 43.4h0M433.4 65.6h0M437.8 56.9h0M434.8 64.8h0M433.8 80.4h0M438.1 64.8h0M436.3 43.1h0M438.8 69.2h0M433.3 32.0h0M437.1 60.7h0M439.5 38.2h0M437.7 86.0h0M442.1 53.4h0M438.3 28.7h0M440.7 54.5h0M434.3 28.4h0M436.2 30.1h0M434.3 85.0h0M436.3 64.0h0M435.1 85.2h0M433.4 42.3h0M439.4 35.6h0M441.1 59.7h0M436.2 21.0h0M435.6 72.9h0M433.5 52.9h0M433.9 41.8h0M439.0 76.9h0M433.9 58.2h0M442.8 62.4h0M438.5 40.8h0M439.6 77.2h0M435.2 55.9h0M435.4 33.2h0M435.6 70.2h0M436.0 29.7h0M437.8 78.9h0M435.5 61.2h0M433.6 41.5h0M440.9 44.3h0M440.2 61.0h0M441.2 80.1h0M434.5 81.2h0M436.9 29.9h0M436.3 76.9h0M435.6 78.8h0M434.5 38.4h0M433.4 44.6h0M439.0 61.1h0M437.1 32.9h0M434.1 42.8h0M435.6 41.2h0M434.7 64.5h0M434.9 50.1h0M437.9 59.3h0M439.2 50.2h0M433.4 28.7h0M441.5 47.3h0M434.2 49.1h0M433.4 27.9h0M441.6 69.9h0M434.4 60.6h0M433.8 61.2h0M440.4 60.8h0M438.6 80.8h0M434.4 25.8h0M441.0 68.2h0M441.4 71.4h0M433.3 38.2h0M434.3 85.5h0M436.2 44.4h0M443.0 54.9h0M434.2 76.5h0M433.4 30.6h0M443.0 79.6h0M445.5 50.4h0M442.7 42.1h0M445.1 49.2h0M442.4 43.8h0M440.3 85.7h0M443.2 79.0h0M440.7 87.2h0M444.2 59.3h0M442.3 80.1h0M451.5 68.7h0M447.0 85.9h0M443.8 60.5h0M446.4 55.6h0M448.1 69.0h0M436.1 89.1h0M443.6 56.5h0M442.5 82.1h0M443.9 47.8h0M444.3 63.8h0M448.6 65.0h0M442.0 37.2h0M443.3 48.4h0M448.4 67.7h0M439.1 85.8h0M438.0 88.8h0M447.4 79.5h0M445.1 77.0h0M450.1 28.2h0M443.8 31.4h0M444.9 46.7h0M444.1 44.0h0M444.5 79.0h0M442.4 82.3h0M445.3 73.8h0M439.6 86.0h0M439.8 83.8h0M440.3 83.2h0M443.7 75.3h0M442.9 79.5h0M444.2 34.3h0M448.0 68.9h0M442.9 80.1h0M447.3 36.8h0M441.9 82.7h0M440.8 12.7h0M438.0 14.0h0M444.0 19.0h0" stroke="#e42124" stroke-width="1.2" stroke-linecap="round" opacity="1"/>
<path d="M428.4 80.0h0M430.4 75.6h0M429.7 60.5h0M429.9 57.1h0M429.1 65.3h0M430.0 41.4h0M429.2 51.7h0M429.3 54.6h0M429.3 79.2h0M428.6 71.1h0M431.3 71.6h0M430.8 75.1h0M429.9 61.9h0M429.1 80.5h0M430.6 65.5h0M429.9 58.5h0M430.3 43.0h0M429.5 50.5h0M430.4 53.3h0M431.2 61.1h0M431.3 76.8h0M429.2 72.6h0M429.7 57.9h0M429.9 52.3h0M430.1 76.5h0" stroke="#111" stroke-width="1.3" stroke-linecap="round" opacity="1"/>
<path d="M429.2 27 L430.7 27 L431.0 62 C431.8 72 434.6 80 435.0 85.5 C435.2 89 433.2 92 431.2 93.2 C429.2 92 427.0 89 427.0 85.5 C427.2 80 429.0 72 429.2 62 Z" fill="#111"/>
<line x1="401.2" y1="96.5" x2="462.8" y2="96.5" stroke="#a8a8a8" stroke-width="0.7"/>
<line x1="403.5" y1="96.5" x2="403.5" y2="97.5" stroke="#a8a8a8" stroke-width="0.4"/>
<text x="403.5" y="100.60000000000001" font-size="3.4" text-anchor="middle" fill="#555">&#8722;10</text>
<line x1="409.12" y1="96.5" x2="409.12" y2="97.5" stroke="#a8a8a8" stroke-width="0.4"/>
<text x="409.12" y="100.60000000000001" font-size="3.4" text-anchor="middle" fill="#555">&#8722;8</text>
<line x1="414.74" y1="96.5" x2="414.74" y2="97.5" stroke="#a8a8a8" stroke-width="0.4"/>
<text x="414.74" y="100.60000000000001" font-size="3.4" text-anchor="middle" fill="#555">&#8722;6</text>
<line x1="420.36" y1="96.5" x2="420.36" y2="97.5" stroke="#a8a8a8" stroke-width="0.4"/>
<text x="420.36" y="100.60000000000001" font-size="3.4" text-anchor="middle" fill="#555">&#8722;4</text>
<line x1="425.98" y1="96.5" x2="425.98" y2="97.5" stroke="#a8a8a8" stroke-width="0.4"/>
<text x="425.98" y="100.60000000000001" font-size="3.4" text-anchor="middle" fill="#555">&#8722;2</text>
<line x1="431.6" y1="96.5" x2="431.6" y2="97.5" stroke="#a8a8a8" stroke-width="0.4"/>
<text x="431.6" y="100.60000000000001" font-size="3.4" text-anchor="middle" fill="#555">0</text>
<line x1="437.22" y1="96.5" x2="437.22" y2="97.5" stroke="#a8a8a8" stroke-width="0.4"/>
<text x="437.22" y="100.60000000000001" font-size="3.4" text-anchor="middle" fill="#555">2</text>
<line x1="442.84000000000003" y1="96.5" x2="442.84000000000003" y2="97.5" stroke="#a8a8a8" stroke-width="0.4"/>
<text x="442.84000000000003" y="100.60000000000001" font-size="3.4" text-anchor="middle" fill="#555">4</text>
<line x1="448.46000000000004" y1="96.5" x2="448.46000000000004" y2="97.5" stroke="#a8a8a8" stroke-width="0.4"/>
<text x="448.46000000000004" y="100.60000000000001" font-size="3.4" text-anchor="middle" fill="#555">6</text>
<line x1="454.08000000000004" y1="96.5" x2="454.08000000000004" y2="97.5" stroke="#a8a8a8" stroke-width="0.4"/>
<text x="454.08000000000004" y="100.60000000000001" font-size="3.4" text-anchor="middle" fill="#555">8</text>
<line x1="459.70000000000005" y1="96.5" x2="459.70000000000005" y2="97.5" stroke="#a8a8a8" stroke-width="0.4"/>
<text x="459.70000000000005" y="100.60000000000001" font-size="3.4" text-anchor="middle" fill="#555">10</text>
<text x="409.1" y="106.6" font-size="5.6" font-weight="bold" fill="#222" textLength="41" lengthAdjust="spacingAndGlyphs">Log<tspan font-size="3.8" dy="1">2</tspan><tspan dy="-1"> (fold change)</tspan></text>
<circle cx="207.3" cy="114.6" r="2.0" fill="#2d4ea3"/>
<text x="213.0" y="116.6" font-size="6.6" fill="#222" textLength="36.4" lengthAdjust="spacingAndGlyphs">Downregulated</text>
<circle cx="256.7" cy="114.6" r="2.0" fill="#e42124"/>
<text x="261.3" y="116.6" font-size="6.6" fill="#222" textLength="28.0" lengthAdjust="spacingAndGlyphs">Upregulated</text>
<circle cx="297.0" cy="114.6" r="2.0" fill="#111"/>
<text x="302.0" y="116.6" font-size="6.6" fill="#222" textLength="34.6" lengthAdjust="spacingAndGlyphs">Not significant</text>
<line x1="343.8" y1="114.6" x2="366.3" y2="114.6" stroke="#6fb8a0" stroke-width="0.7" stroke-dasharray="0.8 1.2"/>
<text x="367.7" y="116.6" font-size="6.6" fill="#222" textLength="16.8" lengthAdjust="spacingAndGlyphs">FC cut</text>
<line x1="393.0" y1="114.6" x2="411.0" y2="114.6" stroke="#e8803a" stroke-width="0.7" stroke-dasharray="0.8 1.2"/>
<text x="412.5" y="116.6" font-size="6.6" fill="#222" textLength="28.5" lengthAdjust="spacingAndGlyphs"><tspan font-style="italic">P</tspan> value cut</text>
<line x1="16.6" y1="146.4" x2="16.6" y2="183.7" stroke="#b0b0b0" stroke-width="0.5"/>
<line x1="16.6" y1="186.8" x2="16.6" y2="203" stroke="#b0b0b0" stroke-width="0.5"/>
<line x1="16.6" y1="183.1" x2="74.3" y2="183.1" stroke="#e07070" stroke-width="0.5"/>
<line x1="74.3" y1="147.9" x2="74.3" y2="183.2" stroke="#e07070" stroke-width="0.5"/>
<line x1="74.3" y1="186.8" x2="74.3" y2="203" stroke="#f2c0c0" stroke-width="0.4"/>
<path d="M16.6 147.9 L70.5 182.6 Q74.5 184.6 76.2 181 Q77 176 77.4 147.5" fill="none" stroke="#7874a8" stroke-width="0.6"/>
<text x="15.600000000000001" y="149.1" font-size="3.5" text-anchor="end" font-weight="bold" fill="#444">0.00</text>
<text x="15.600000000000001" y="159.29999999999998" font-size="3.5" text-anchor="end" font-weight="bold" fill="#444">&#8722;0.25</text>
<text x="15.600000000000001" y="169.6" font-size="3.5" text-anchor="end" font-weight="bold" fill="#444">&#8722;0.50</text>
<text x="15.600000000000001" y="179.79999999999998" font-size="3.5" text-anchor="end" font-weight="bold" fill="#444">&#8722;0.75</text>
<text x="15.600000000000001" y="190.2" font-size="3.4" text-anchor="end" fill="#444">10</text>
<text x="15.600000000000001" y="194.5" font-size="3.4" text-anchor="end" fill="#444">0</text>
<text x="15.600000000000001" y="199.0" font-size="3.4" text-anchor="end" fill="#444">&#8722;10</text>
<text x="15.600000000000001" y="203.2" font-size="3.4" text-anchor="end" fill="#444">&#8722;20</text>
<text x="3.3" y="165.55" font-size="3.7" text-anchor="middle" font-weight="bold" fill="#333" transform="rotate(-90 3.3 165.55)">Running score</text>
<text x="3.3" y="194.9" font-size="3.7" text-anchor="middle" font-weight="bold" fill="#333" transform="rotate(-90 3.3 194.9)">Gene score</text>
<line x1="16.6" y1="193.3" x2="79" y2="193.3" stroke="#e6e6e6" stroke-width="0.5"/>
<path d="M61.4 193.3v0.9M61.1 193.3v1.0M68.7 193.3v2.1M52.4 193.3v0.7M49.2 193.3v2.1M49.3 193.3v2.2M53.5 193.3v1.8M68.6 193.3v0.6M38.7 193.3v1.1M61.7 193.3v1.8M58.0 193.3v1.4M41.2 193.3v1.0M46.1 193.3v1.6M59.1 193.3v1.9M51.0 193.3v0.6M65.2 193.3v2.6M41.9 193.3v0.8M62.1 193.3v0.7M54.2 193.3v1.1M42.3 193.3v1.6M57.1 193.3v1.3M57.4 193.3v1.5M68.4 193.3v1.4M64.7 193.3v0.9M42.3 193.3v1.1M69.6 193.3v1.3M49.0 193.3v0.8M66.2 193.3v1.4M57.7 193.3v0.6M56.3 193.3v2.3M38.5 193.3v1.5M54.9 193.3v1.9M42.1 193.3v1.6M68.8 193.3v1.0M67.2 193.3v0.6M61.4 193.3v2.6M46.8 193.3v0.7M53.5 193.3v1.1M56.9 193.3v1.0M44.8 193.3v0.5" stroke="#e6a0a0" stroke-width="0.35"/>
<path d="M68.5 193.3 C74.8 193.9 77.3 194.8 78.8 200.8 L78.8 193.3 Z" fill="#d45050"/>
<path d="M75.5 193.3 C76.8 193.9 78.0 194.8 78.8 200.8 L78.8 193.3 Z" fill="#7a1010"/>
<text x="32.2" y="143.0" font-size="5.8" font-weight="bold" fill="#111" textLength="24.8" lengthAdjust="spacingAndGlyphs" stroke="#111" stroke-width="0.15">E2F targets</text>
<text x="10.3" y="213.5" font-size="5.3" fill="#222" textLength="23.2" lengthAdjust="spacingAndGlyphs">ES = &#8722;0.677</text>
<text x="52.0" y="213.5" font-size="5.3" fill="#222" textLength="32.8" lengthAdjust="spacingAndGlyphs"><tspan font-style="italic">P</tspan><tspan font-size="3.6" dy="1">FDR</tspan><tspan dy="-1"> = 1.60e&#8722;56</tspan></text>
<line x1="110" y1="144.7" x2="110" y2="183.2" stroke="#b0b0b0" stroke-width="0.5"/>
<line x1="110" y1="186.8" x2="110" y2="201" stroke="#b0b0b0" stroke-width="0.5"/>
<line x1="110" y1="182.7" x2="160.6" y2="182.7" stroke="#e07070" stroke-width="0.5"/>
<line x1="160.6" y1="152.8" x2="160.6" y2="182.7" stroke="#e07070" stroke-width="0.5"/>
<line x1="160.6" y1="186.8" x2="160.6" y2="201" stroke="#f2c0c0" stroke-width="0.4"/>
<path d="M110 153.5 C112 149 115 147 118 147.4 C124 148 140 167 155 180.5 C158 183 161 183.8 163 181.5 C167 176 171 163 173.5 153.4" fill="none" stroke="#7874a8" stroke-width="0.6"/>
<text x="109.0" y="147.6" font-size="3.5" text-anchor="end" font-weight="bold" fill="#444">0.1</text>
<text x="109.0" y="154.2" font-size="3.5" text-anchor="end" font-weight="bold" fill="#444">0.0</text>
<text x="109.0" y="161.2" font-size="3.5" text-anchor="end" font-weight="bold" fill="#444">&#8722;0.1</text>
<text x="109.0" y="168.1" font-size="3.5" text-anchor="end" font-weight="bold" fill="#444">&#8722;0.2</text>
<text x="109.0" y="175.1" font-size="3.5" text-anchor="end" font-weight="bold" fill="#444">&#8722;0.3</text>
<text x="109.0" y="182.39999999999998" font-size="3.5" text-anchor="end" font-weight="bold" fill="#444">&#8722;0.4</text>
<text x="109.0" y="188.79999999999998" font-size="3.4" text-anchor="end" fill="#444">10</text>
<text x="109.0" y="193.89999999999998" font-size="3.4" text-anchor="end" fill="#444">0</text>
<text x="109.0" y="198.79999999999998" font-size="3.4" text-anchor="end" fill="#444">&#8722;10</text>
<text x="99.6" y="164.45" font-size="3.7" text-anchor="middle" font-weight="bold" fill="#333" transform="rotate(-90 99.6 164.45)">Running score</text>
<text x="99.6" y="193.9" font-size="3.7" text-anchor="middle" font-weight="bold" fill="#333" transform="rotate(-90 99.6 193.9)">Gene score</text>
<line x1="110" y1="192.7" x2="173.5" y2="192.7" stroke="#e6e6e6" stroke-width="0.5"/>
<path d="M135.1 192.7v0.7M143.0 192.7v0.4M135.3 192.7v1.3M136.6 192.7v0.8M134.2 192.7v1.4M139.6 192.7v1.6M145.8 192.7v0.4M136.6 192.7v0.5M138.9 192.7v0.8M141.5 192.7v0.5M138.6 192.7v1.9M138.2 192.7v0.5M140.8 192.7v1.9M138.1 192.7v0.9M134.7 192.7v1.7M133.1 192.7v0.6M146.4 192.7v1.2M134.1 192.7v0.7M135.2 192.7v0.5M136.9 192.7v1.5M142.5 192.7v0.5M134.9 192.7v1.2M135.0 192.7v1.9M137.2 192.7v1.7M141.3 192.7v0.6M132.4 192.7v1.3M132.7 192.7v0.8M145.5 192.7v0.6M144.3 192.7v1.0M142.0 192.7v0.9M142.8 192.7v0.6M136.3 192.7v1.9M133.5 192.7v0.8M143.3 192.7v1.2M134.8 192.7v0.7M132.7 192.7v0.5M136.6 192.7v0.7M137.9 192.7v1.8M135.0 192.7v0.8M135.6 192.7v0.7" stroke="#e6a0a0" stroke-width="0.35"/>
<path d="M110.5 192.7 L110.5 187.1 C112.5 190.17999999999998 115.5 191.7 124 192.7 Z" fill="#a8d8b0"/>
<path d="M128.5 192.7v-0.3M118.9 192.7v-1.4M114.9 192.7v-1.9M113.2 192.7v-1.7M117.2 192.7v-2.6M113.4 192.7v-3.9M111.6 192.7v-4.0M125.7 192.7v-0.7M131.9 192.7v-0.8M113.2 192.7v-2.2M111.3 192.7v-3.5M121.0 192.7v-1.7M129.2 192.7v-0.3M126.9 192.7v-0.9M126.6 192.7v-0.6M131.3 192.7v-0.3M125.5 192.7v-1.5M117.2 192.7v-3.7M130.1 192.7v-0.5M113.7 192.7v-4.7M131.2 192.7v-0.5M125.2 192.7v-0.5M124.3 192.7v-1.8M128.4 192.7v-0.6M126.1 192.7v-1.4M124.7 192.7v-1.4M117.9 192.7v-1.5M113.9 192.7v-4.4M125.8 192.7v-0.9M123.7 192.7v-2.1" stroke="#6cb87a" stroke-width="0.35"/>
<path d="M145 192.7 C169.8 193.29999999999998 172.3 194.2 173.8 200.5 L173.8 192.7 Z" fill="#d45050"/>
<path d="M168 192.7 C171.8 193.29999999999998 173.0 194.2 173.8 200.5 L173.8 192.7 Z" fill="#7a1010"/>
<text x="95.6" y="143.3" font-size="5.8" font-weight="bold" fill="#111" textLength="74.5" lengthAdjust="spacingAndGlyphs" stroke="#111" stroke-width="0.15">RUNX1 transcriptional regulation</text>
<text x="103.9" y="213.3" font-size="5.3" fill="#222" textLength="24.6" lengthAdjust="spacingAndGlyphs">ES = &#8722;0.426</text>
<text x="144.5" y="213.3" font-size="5.3" fill="#222" textLength="27.5" lengthAdjust="spacingAndGlyphs"><tspan font-style="italic">P</tspan><tspan font-size="3.6" dy="1">FDR</tspan><tspan dy="-1"> = 0.0222</tspan></text>
<line x1="18.8" y1="224.6" x2="18.8" y2="261.6" stroke="#b0b0b0" stroke-width="0.5"/>
<line x1="18.8" y1="265.3" x2="18.8" y2="279" stroke="#b0b0b0" stroke-width="0.5"/>
<line x1="18.8" y1="260.6" x2="72.0" y2="260.6" stroke="#e07070" stroke-width="0.5"/>
<line x1="72.0" y1="226.1" x2="72.0" y2="261.1" stroke="#e07070" stroke-width="0.5"/>
<line x1="72.0" y1="265.3" x2="72.0" y2="279" stroke="#f2c0c0" stroke-width="0.4"/>
<path d="M18.8 226.1 L68.5 259.4 Q71.5 261.6 74.5 258.5 Q78.5 250 80.6 222.5" fill="none" stroke="#7874a8" stroke-width="0.6"/>
<text x="17.8" y="227.29999999999998" font-size="3.5" text-anchor="end" font-weight="bold" fill="#444">0</text>
<text x="17.8" y="236.29999999999998" font-size="3.5" text-anchor="end" font-weight="bold" fill="#444">&#8722;0.2</text>
<text x="17.8" y="244.89999999999998" font-size="3.5" text-anchor="end" font-weight="bold" fill="#444">&#8722;0.4</text>
<text x="17.8" y="253.39999999999998" font-size="3.5" text-anchor="end" font-weight="bold" fill="#444">&#8722;0.6</text>
<text x="17.8" y="262.2" font-size="3.5" text-anchor="end" font-weight="bold" fill="#444">&#8722;0.8</text>
<text x="17.8" y="271.0" font-size="3.4" text-anchor="end" fill="#444">0</text>
<text x="17.8" y="276.4" font-size="3.4" text-anchor="end" fill="#444">&#8722;10</text>
<text x="5.1" y="243.60000000000002" font-size="3.7" text-anchor="middle" font-weight="bold" fill="#333" transform="rotate(-90 5.1 243.60000000000002)">Running score</text>
<text x="5.1" y="272.15" font-size="3.7" text-anchor="middle" font-weight="bold" fill="#333" transform="rotate(-90 5.1 272.15)">Gene score</text>
<line x1="18.8" y1="269.8" x2="81" y2="269.8" stroke="#e6e6e6" stroke-width="0.5"/>
<path d="M42.9 269.8v1.5M60.6 269.8v1.8M57.9 269.8v1.3M56.9 269.8v1.0M56.1 269.8v1.6M49.1 269.8v0.7M55.6 269.8v2.4M56.1 269.8v1.2M46.3 269.8v0.4M47.0 269.8v1.6M49.0 269.8v1.2M59.9 269.8v1.4M55.1 269.8v1.8M51.9 269.8v2.2M59.8 269.8v0.7M63.8 269.8v1.0M52.2 269.8v0.8M47.9 269.8v1.7M54.9 269.8v0.5M47.6 269.8v1.3M43.4 269.8v0.4M51.2 269.8v2.0M57.1 269.8v0.7M52.1 269.8v1.8M55.1 269.8v2.2M51.7 269.8v2.2M49.4 269.8v1.4M63.5 269.8v1.3M46.9 269.8v2.1M55.5 269.8v1.1M60.3 269.8v0.6M47.3 269.8v1.7M45.2 269.8v0.4M46.2 269.8v1.5M47.5 269.8v0.9M58.3 269.8v1.8M63.7 269.8v1.4M49.5 269.8v1.9M55.0 269.8v1.0M54.6 269.8v1.3" stroke="#e6a0a0" stroke-width="0.35"/>
<path d="M62.5 269.8 C70.4 270.40000000000003 72.9 271.3 74.4 277.0 L74.4 269.8 Z" fill="#d45050"/>
<path d="M68.5 269.8 C72.4 270.40000000000003 73.60000000000001 271.3 74.4 277.0 L74.4 269.8 Z" fill="#7a1010"/>
<text x="28.6" y="223.3" font-size="5.8" font-weight="bold" fill="#111" textLength="27.5" lengthAdjust="spacingAndGlyphs" stroke="#111" stroke-width="0.15">Myc targets</text>
<text x="10.5" y="290.2" font-size="5.3" fill="#222" textLength="23.8" lengthAdjust="spacingAndGlyphs">ES = &#8722;0.788</text>
<text x="51.5" y="290.2" font-size="5.3" fill="#222" textLength="29.5" lengthAdjust="spacingAndGlyphs"><tspan font-style="italic">P</tspan><tspan font-size="3.6" dy="1">FDR</tspan><tspan dy="-1"> = 1.01e&#8722;33</tspan></text>
<line x1="105.6" y1="224.2" x2="105.6" y2="262.1" stroke="#b0b0b0" stroke-width="0.5"/>
<line x1="105.6" y1="266.8" x2="105.6" y2="280" stroke="#b0b0b0" stroke-width="0.5"/>
<line x1="105.6" y1="261.2" x2="162.7" y2="261.2" stroke="#e07070" stroke-width="0.5"/>
<line x1="162.7" y1="225.9" x2="162.7" y2="261.6" stroke="#e07070" stroke-width="0.5"/>
<line x1="162.7" y1="266.8" x2="162.7" y2="280" stroke="#f2c0c0" stroke-width="0.4"/>
<path d="M105.6 225.7 L159.5 260.6 Q162.5 262.6 165.2 259.5 Q167.5 253 168.4 224.8" fill="none" stroke="#7874a8" stroke-width="0.6"/>
<text x="104.6" y="226.89999999999998" font-size="3.5" text-anchor="end" font-weight="bold" fill="#444">0.0</text>
<text x="104.6" y="235.89999999999998" font-size="3.5" text-anchor="end" font-weight="bold" fill="#444">&#8722;0.2</text>
<text x="104.6" y="244.5" font-size="3.5" text-anchor="end" font-weight="bold" fill="#444">&#8722;0.4</text>
<text x="104.6" y="253.29999999999998" font-size="3.5" text-anchor="end" font-weight="bold" fill="#444">&#8722;0.6</text>
<text x="104.6" y="262.59999999999997" font-size="3.5" text-anchor="end" font-weight="bold" fill="#444">&#8722;0.8</text>
<text x="104.6" y="269.4" font-size="3.4" text-anchor="end" fill="#444">10</text>
<text x="104.6" y="273.4" font-size="3.4" text-anchor="end" fill="#444">0</text>
<text x="104.6" y="277.59999999999997" font-size="3.4" text-anchor="end" fill="#444">&#8722;10</text>
<text x="93.1" y="243.65" font-size="3.7" text-anchor="middle" font-weight="bold" fill="#333" transform="rotate(-90 93.1 243.65)">Running score</text>
<text x="93.1" y="273.4" font-size="3.7" text-anchor="middle" font-weight="bold" fill="#333" transform="rotate(-90 93.1 273.4)">Gene score</text>
<line x1="105.6" y1="273.8" x2="169.5" y2="273.8" stroke="#e6e6e6" stroke-width="0.5"/>
<path d="M157.5 273.8v0.8M142.7 273.8v1.6M151.9 273.8v2.2M137.0 273.8v1.0M146.7 273.8v1.5M142.6 273.8v1.5M134.6 273.8v0.8M148.1 273.8v0.6M144.5 273.8v1.6M156.1 273.8v1.7M153.2 273.8v2.1M157.7 273.8v2.4M151.9 273.8v1.4M128.7 273.8v0.4M132.0 273.8v0.7M158.4 273.8v0.6M146.9 273.8v1.8M132.6 273.8v1.0M136.3 273.8v0.6M128.8 273.8v1.0M139.5 273.8v0.6M131.8 273.8v1.4M141.4 273.8v1.8M128.0 273.8v0.6M147.5 273.8v0.7M136.4 273.8v0.6M137.9 273.8v0.6M144.0 273.8v1.2M143.1 273.8v0.6M158.8 273.8v0.7M152.9 273.8v1.5M128.1 273.8v1.7M142.9 273.8v1.6M131.2 273.8v1.5M138.3 273.8v1.4M134.7 273.8v1.3M143.7 273.8v1.6M130.7 273.8v0.6M159.2 273.8v0.9M131.7 273.8v0.6" stroke="#e6a0a0" stroke-width="0.35"/>
<path d="M158 273.8 C166 274.40000000000003 168.5 275.3 170 280.3 L170 273.8 Z" fill="#d45050"/>
<path d="M166 273.8 C168 274.40000000000003 169.2 275.3 170 280.3 L170 273.8 Z" fill="#7a1010"/>
<text x="109.3" y="224.0" font-size="5.8" font-weight="bold" fill="#111" textLength="39.2" lengthAdjust="spacingAndGlyphs" stroke="#111" stroke-width="0.15">G<tspan font-size="4" dy="1">2</tspan><tspan dy="-1">/M checkpoint</tspan></text>
<text x="103.6" y="290.8" font-size="5.3" fill="#222" textLength="17.2" lengthAdjust="spacingAndGlyphs">ES = &#8722;0.62</text>
<text x="144.4" y="290.8" font-size="5.3" fill="#222" textLength="33.4" lengthAdjust="spacingAndGlyphs"><tspan font-style="italic">P</tspan><tspan font-size="3.6" dy="1">FDR</tspan><tspan dy="-1"> = 6.57e&#8722;42</tspan></text>
<line x1="168.9" y1="224.5" x2="168.9" y2="262" stroke="#e0e0e0" stroke-width="0.4"/>
<text x="213.4" y="243.0" font-size="5.2" text-anchor="end" font-weight="bold" fill="#333">0</text>
<text x="213.4" y="226.0" font-size="5.2" text-anchor="end" font-weight="bold" fill="#333">2</text>
<text x="213.4" y="209.0" font-size="5.2" text-anchor="end" font-weight="bold" fill="#333">4</text>
<text x="213.4" y="192.0" font-size="5.2" text-anchor="end" font-weight="bold" fill="#333">6</text>
<text x="213.4" y="175.0" font-size="5.2" text-anchor="end" font-weight="bold" fill="#333">8</text>
<text x="213.4" y="158.0" font-size="5.2" text-anchor="end" font-weight="bold" fill="#333">10</text>
<text x="203.8" y="192.7" font-size="5.5" font-weight="bold" text-anchor="middle" fill="#333" stroke="#333" stroke-width="0.1" textLength="44" lengthAdjust="spacingAndGlyphs" transform="rotate(-90 203.6 192.7)">&#8211;Log<tspan font-size="3.5" dy="1">10</tspan><tspan dy="-1"> (adjusted </tspan><tspan font-style="italic">P</tspan> value)</text>
<line x1="217.4" y1="229.95" x2="300" y2="229.95" stroke="#f0a070" stroke-width="0.6" stroke-dasharray="0.8 1.2"/>
<line x1="213.5" y1="241.6" x2="300" y2="241.6" stroke="#aaa" stroke-width="0.7"/>
<text x="218.3" y="249.4" font-size="5.2" text-anchor="middle" font-weight="bold" fill="#333">&#8722;2</text>
<text x="258.5" y="249.4" font-size="5.2" text-anchor="middle" font-weight="bold" fill="#333">0</text>
<text x="298.7" y="249.4" font-size="5.2" text-anchor="middle" font-weight="bold" fill="#333">2</text>
<text x="238.5" y="255.9" font-size="5" font-weight="bold" fill="#333" textLength="40" lengthAdjust="spacingAndGlyphs">Log<tspan font-size="3.5" dy="1">2</tspan><tspan dy="-1"> (fold change)</tspan></text>
<path d="M257.3 232.8h0M260.8 231.4h0M255.6 235.6h0M255.0 238.3h0M258.9 235.0h0M259.1 234.5h0M258.0 240.7h0M257.0 234.9h0M257.9 229.6h0M259.4 238.1h0M258.4 239.7h0M257.8 231.5h0M257.0 232.1h0M258.7 239.3h0M259.2 237.6h0M260.2 238.1h0M255.3 235.1h0M255.8 235.0h0M255.8 237.0h0M255.0 234.2h0M257.6 229.0h0M257.5 232.5h0M262.9 235.9h0M258.9 233.3h0M253.1 229.4h0M260.5 233.1h0M258.3 234.2h0M257.7 234.4h0M258.5 227.7h0M259.4 233.7h0M259.9 228.1h0M254.2 234.7h0M262.6 233.2h0M256.0 237.1h0M256.1 231.4h0M257.8 239.2h0M258.1 233.4h0M255.4 237.5h0M253.0 228.6h0M260.0 232.4h0M257.4 228.5h0M256.7 230.5h0M257.9 237.5h0M256.2 227.9h0M259.2 233.6h0M256.9 233.0h0M260.5 232.4h0M256.3 235.3h0M260.3 236.5h0M260.6 239.9h0M259.7 229.1h0M259.9 239.2h0M259.3 232.5h0M258.6 231.4h0M262.1 231.9h0M259.0 234.3h0M253.9 240.6h0M258.5 234.1h0M259.3 240.2h0M251.8 232.0h0M258.3 235.5h0M258.0 229.2h0M258.9 232.8h0M261.0 234.5h0M258.4 239.8h0M254.3 238.3h0M262.1 234.6h0M256.7 232.9h0M256.1 238.3h0M255.5 227.9h0M252.8 237.2h0M256.0 232.4h0M256.8 229.7h0M258.0 235.5h0M258.7 239.2h0M253.7 238.1h0M256.6 227.9h0M252.1 230.6h0M258.9 229.2h0M262.4 235.1h0M258.0 232.4h0M255.2 235.3h0M257.4 232.7h0M260.0 232.7h0M255.2 235.0h0M254.9 230.4h0M257.0 237.6h0M260.3 238.6h0M258.1 229.2h0M258.5 230.2h0M259.1 236.8h0M261.3 234.4h0M257.3 228.5h0M255.8 228.2h0M259.2 231.5h0M260.6 231.2h0M258.6 230.8h0M256.8 238.4h0M261.8 231.6h0M250.9 231.7h0M257.6 228.9h0M257.1 227.8h0M256.2 231.2h0M258.9 239.4h0M258.5 232.6h0M259.8 238.2h0M255.9 229.9h0M260.5 239.6h0M255.8 233.2h0M257.9 239.5h0M259.3 235.3h0M255.7 232.7h0M262.3 235.3h0M258.8 237.1h0M258.8 238.9h0M258.6 232.5h0M258.6 232.8h0M258.6 228.8h0M259.1 234.5h0M255.1 239.3h0M256.8 235.8h0M257.4 229.5h0M261.9 235.0h0M261.3 230.0h0M257.2 231.9h0M256.7 235.7h0M257.8 231.9h0M257.4 232.5h0M258.0 233.7h0M253.7 231.0h0M257.3 240.4h0M259.7 239.2h0M255.4 240.2h0M257.0 235.2h0M261.4 237.3h0M255.2 236.1h0M253.0 227.8h0M260.3 233.9h0M256.2 231.1h0M260.6 240.8h0M256.1 240.5h0M258.9 229.7h0M256.6 232.4h0M262.6 229.5h0M256.9 240.1h0M254.3 237.5h0M259.7 232.7h0M256.9 228.8h0M259.6 230.5h0M255.3 231.9h0M259.7 232.0h0M260.3 238.7h0M258.2 227.6h0M259.9 239.2h0M257.8 237.3h0M253.8 230.4h0M256.2 230.8h0M257.2 236.7h0M258.5 230.8h0M260.7 228.1h0M258.6 240.7h0M256.5 235.4h0M258.1 239.7h0M259.7 229.6h0M258.2 235.5h0M254.5 236.6h0M258.6 236.1h0M255.3 236.5h0M259.9 234.4h0M260.6 229.4h0M257.2 233.4h0M257.4 231.8h0M253.7 237.1h0M255.2 240.6h0M252.4 228.9h0M259.3 240.4h0M260.7 231.7h0M252.8 233.6h0M256.1 233.8h0M260.9 231.2h0M257.4 231.4h0M254.6 232.2h0M254.9 229.7h0M258.5 240.0h0M260.7 238.9h0M255.8 239.5h0M253.5 229.9h0M260.5 240.9h0M260.7 237.7h0M256.9 240.8h0M256.4 229.5h0M261.5 232.8h0M255.7 234.3h0M259.3 227.8h0M258.0 235.5h0M258.0 237.4h0M253.5 228.6h0M254.7 237.8h0M254.4 238.2h0M262.6 227.6h0M261.3 233.5h0M254.1 231.0h0M254.6 232.2h0M254.0 229.8h0M259.2 235.7h0M259.9 229.1h0M255.1 230.1h0M252.1 229.7h0M252.5 230.3h0M252.1 234.0h0" stroke="#111" stroke-width="1.5" stroke-linecap="round" opacity="1"/>
<path d="M249.5 230.5h0M248.5 233.0h0M266.5 229.8h0M268.5 232.0h0M267.0 234.5h0M265.5 235.0h0M269.5 233.5h0M251.0 236.0h0" stroke="#111" stroke-width="1.5" stroke-linecap="round" opacity="1"/>
<path d="M256.0 166.0h0M257.0 167.9h0M256.9 169.8h0M255.6 171.7h0M255.8 173.6h0M255.6 175.5h0M256.4 177.5h0M256.0 179.4h0M256.5 181.3h0M254.7 183.2h0M257.1 185.1h0M255.9 187.0h0M256.5 188.9h0M255.9 190.8h0M255.7 192.7h0M256.3 194.6h0M256.6 196.5h0M255.9 198.5h0M255.9 200.4h0M256.5 202.3h0M255.4 204.2h0M254.9 206.1h0M256.3 208.0h0M255.5 209.9h0M254.7 211.8h0M255.4 213.7h0M255.7 215.6h0M255.2 217.5h0M255.0 219.5h0M256.0 221.4h0M256.6 223.3h0M255.8 225.2h0M255.5 227.1h0M256.3 229.0h0M254.2 170.5h0M253.9 175.0h0M255.2 168.0h0M248.3 222.8h0M249.3 225.6h0M246.5 228.0h0M251.0 227.0h0M253.0 223.5h0M252.5 229.5h0M250.0 231.0h0M254.0 226.0h0" stroke="#3a5cb0" stroke-width="1.8" stroke-linecap="round" opacity="1"/>
<path d="M259.9 204.6h0M262.8 219.6h0M261.9 232.6h0M259.7 174.4h0M263.7 199.1h0M262.0 232.8h0M259.3 198.6h0M261.6 185.7h0M261.9 206.5h0M260.3 176.6h0M263.9 229.5h0M261.1 196.6h0M260.1 179.8h0M261.8 173.5h0M258.9 206.9h0M262.8 223.4h0M261.1 177.3h0M260.7 232.3h0M262.9 227.2h0M259.5 180.2h0M263.6 195.5h0M264.8 208.6h0M260.6 190.0h0M262.6 193.0h0M263.6 234.8h0M263.7 205.0h0M259.9 223.8h0M259.7 177.9h0M266.5 192.1h0M261.0 223.5h0M264.8 218.9h0M261.6 225.8h0M258.9 184.9h0M261.6 184.4h0M260.0 226.1h0M259.6 224.6h0M260.6 200.0h0M259.5 237.9h0M263.9 192.0h0M266.8 177.2h0M260.6 217.4h0M263.8 208.9h0M261.9 215.8h0M261.1 175.0h0M259.8 212.5h0M259.5 197.7h0M258.9 199.5h0M260.4 197.0h0M266.9 233.2h0M261.8 179.6h0M261.0 236.0h0M263.8 221.1h0M262.7 227.2h0M261.5 184.4h0M260.7 176.1h0M260.9 222.2h0M259.8 224.6h0M266.1 226.3h0M272.0 178.7h0M271.8 223.8h0M273.5 226.5h0M269.0 217.0h0M266.0 203.0h0" stroke="#e0262b" stroke-width="1.8" stroke-linecap="round" opacity="1"/>
<path d="M251.9 152.3h0M242.7 215.3h0" stroke="#1a2040" stroke-width="1.7" stroke-linecap="round" opacity="1"/>
<circle cx="206.3" cy="265.59999999999997" r="0.9" fill="#3a5cb0"/>
<circle cx="250.0" cy="265.59999999999997" r="0.9" fill="#e0262b"/>
<circle cx="286.8" cy="265.59999999999997" r="0.9" fill="#111"/>
<text x="208.8" y="267.4" font-size="5.6" font-weight="bold" fill="#222" textLength="36.2" lengthAdjust="spacingAndGlyphs">Downregulated</text>
<text x="253.0" y="267.4" font-size="5.6" font-weight="bold" fill="#222" textLength="29.5" lengthAdjust="spacingAndGlyphs">Upregulated</text>
<text x="290.0" y="267.4" font-size="5.6" font-weight="bold" fill="#222" textLength="33.8" lengthAdjust="spacingAndGlyphs">Not significant</text>
<text x="357.29999999999995" y="172.5" font-size="4.1" text-anchor="end" font-weight="bold" fill="#222">0</text>
<text x="357.29999999999995" y="165.7" font-size="4.1" text-anchor="end" font-weight="bold" fill="#222" textLength="3.8" lengthAdjust="spacingAndGlyphs">0.2</text>
<text x="357.29999999999995" y="158.9" font-size="4.1" text-anchor="end" font-weight="bold" fill="#222" textLength="3.8" lengthAdjust="spacingAndGlyphs">0.4</text>
<text x="357.29999999999995" y="152.1" font-size="4.1" text-anchor="end" font-weight="bold" fill="#222" textLength="3.8" lengthAdjust="spacingAndGlyphs">0.6</text>
<text x="357.29999999999995" y="145.29999999999998" font-size="4.1" text-anchor="end" font-weight="bold" fill="#222" textLength="3.8" lengthAdjust="spacingAndGlyphs">0.8</text>
<text x="357.29999999999995" y="138.5" font-size="4.1" text-anchor="end" font-weight="bold" fill="#222">1</text>
<text x="357.29999999999995" y="131.70000000000002" font-size="4.1" text-anchor="end" font-weight="bold" fill="#222" textLength="3.8" lengthAdjust="spacingAndGlyphs">1.2</text>
<rect x="362.6" y="137.1" width="2.3000000000000003" height="34.0" fill="#4472c4"/>
<line x1="363.75500000000005" y1="137.1" x2="363.75500000000005" y2="136.30049073049278" stroke="#555" stroke-width="0.3"/>
<line x1="363.15500000000003" y1="136.30049073049278" x2="364.3550000000001" y2="136.30049073049278" stroke="#555" stroke-width="0.3"/>
<text x="363.76" y="135.8" font-size="2.6" text-anchor="middle" fill="#555">**</text>
<rect x="365.05" y="143.9" width="2.3000000000000003" height="27.2" fill="#ed7d31"/>
<line x1="366.20500000000004" y1="143.89999999999998" x2="366.20500000000004" y2="142.42066720788964" stroke="#555" stroke-width="0.3"/>
<line x1="365.605" y1="142.42066720788964" x2="366.80500000000006" y2="142.42066720788964" stroke="#555" stroke-width="0.3"/>
<text x="366.21" y="141.92" font-size="2.6" text-anchor="middle" fill="#555">*</text>
<rect x="367.5" y="144.58" width="2.3000000000000003" height="26.52" fill="#a5a5a5"/>
<line x1="368.65500000000003" y1="144.57999999999998" x2="368.65500000000003" y2="143.41056422598632" stroke="#555" stroke-width="0.3"/>
<line x1="368.055" y1="143.41056422598632" x2="369.25500000000005" y2="143.41056422598632" stroke="#555" stroke-width="0.3"/>
<text x="368.66" y="142.91" font-size="2.6" text-anchor="middle" fill="#555">***</text>
<rect x="369.95" y="149.0" width="2.3000000000000003" height="22.1" fill="#ffc000"/>
<line x1="371.1050000000001" y1="149.0" x2="371.1050000000001" y2="148.2299838602032" stroke="#555" stroke-width="0.3"/>
<line x1="370.50500000000005" y1="148.2299838602032" x2="371.7050000000001" y2="148.2299838602032" stroke="#555" stroke-width="0.3"/>
<text x="371.11" y="147.73" font-size="2.6" text-anchor="middle" fill="#555">***</text>
<text x="363.5" y="179.1" font-size="4.3" font-weight="bold" fill="#3a3a3a" textLength="8.6" lengthAdjust="spacingAndGlyphs">BCL2</text>
<rect x="376.9" y="137.1" width="2.3000000000000003" height="34.0" fill="#4472c4"/>
<line x1="378.055" y1="137.1" x2="378.055" y2="135.8530734423325" stroke="#555" stroke-width="0.3"/>
<line x1="377.455" y1="135.8530734423325" x2="378.65500000000003" y2="135.8530734423325" stroke="#555" stroke-width="0.3"/>
<text x="378.06" y="135.35" font-size="2.6" text-anchor="middle" fill="#555">**</text>
<rect x="379.35" y="158.52" width="2.3000000000000003" height="12.58" fill="#ed7d31"/>
<line x1="380.505" y1="158.51999999999998" x2="380.505" y2="156.95019166654" stroke="#555" stroke-width="0.3"/>
<line x1="379.905" y1="156.95019166654" x2="381.105" y2="156.95019166654" stroke="#555" stroke-width="0.3"/>
<text x="380.5" y="156.45" font-size="2.6" text-anchor="middle" fill="#555">*</text>
<rect x="381.8" y="158.52" width="2.3000000000000003" height="12.58" fill="#a5a5a5"/>
<line x1="382.955" y1="158.51999999999998" x2="382.955" y2="157.19318848143385" stroke="#555" stroke-width="0.3"/>
<line x1="382.35499999999996" y1="157.19318848143385" x2="383.555" y2="157.19318848143385" stroke="#555" stroke-width="0.3"/>
<text x="382.95" y="156.69" font-size="2.6" text-anchor="middle" fill="#555">*</text>
<rect x="384.25" y="156.82" width="2.3000000000000003" height="14.28" fill="#ffc000"/>
<line x1="385.40500000000003" y1="156.82" x2="385.40500000000003" y2="156.20276465891052" stroke="#555" stroke-width="0.3"/>
<line x1="384.805" y1="156.20276465891052" x2="386.00500000000005" y2="156.20276465891052" stroke="#555" stroke-width="0.3"/>
<text x="385.41" y="155.7" font-size="2.6" text-anchor="middle" fill="#555">***</text>
<text x="376.9" y="179.1" font-size="4.3" font-weight="bold" fill="#3a3a3a" textLength="10.4" lengthAdjust="spacingAndGlyphs">BIRC3</text>
<rect x="390.9" y="137.1" width="2.3000000000000003" height="34.0" fill="#4472c4"/>
<line x1="392.055" y1="137.1" x2="392.055" y2="135.71943919624252" stroke="#555" stroke-width="0.3"/>
<line x1="391.455" y1="135.71943919624252" x2="392.65500000000003" y2="135.71943919624252" stroke="#555" stroke-width="0.3"/>
<text x="392.06" y="135.22" font-size="2.6" text-anchor="middle" fill="#555">**</text>
<rect x="393.35" y="138.8" width="2.3000000000000003" height="32.3" fill="#ed7d31"/>
<line x1="394.505" y1="138.8" x2="394.505" y2="137.47796261467462" stroke="#555" stroke-width="0.3"/>
<line x1="393.905" y1="137.47796261467462" x2="395.105" y2="137.47796261467462" stroke="#555" stroke-width="0.3"/>
<text x="394.5" y="136.98" font-size="2.6" text-anchor="middle" fill="#555">***</text>
<rect x="395.8" y="142.2" width="2.3000000000000003" height="28.9" fill="#a5a5a5"/>
<line x1="396.955" y1="142.2" x2="396.955" y2="141.3375466061745" stroke="#555" stroke-width="0.3"/>
<line x1="396.35499999999996" y1="141.3375466061745" x2="397.555" y2="141.3375466061745" stroke="#555" stroke-width="0.3"/>
<text x="396.95" y="140.84" font-size="2.6" text-anchor="middle" fill="#555">***</text>
<rect x="398.25" y="147.3" width="2.3000000000000003" height="23.8" fill="#ffc000"/>
<line x1="399.40500000000003" y1="147.3" x2="399.40500000000003" y2="145.99749741074822" stroke="#555" stroke-width="0.3"/>
<line x1="398.805" y1="145.99749741074822" x2="400.00500000000005" y2="145.99749741074822" stroke="#555" stroke-width="0.3"/>
<text x="399.41" y="145.5" font-size="2.6" text-anchor="middle" fill="#555">**</text>
<text x="390.9" y="179.1" font-size="4.3" font-weight="bold" fill="#3a3a3a" textLength="10.4" lengthAdjust="spacingAndGlyphs">BIRC5</text>
<line x1="360.8" y1="129.3" x2="360.8" y2="171.1" stroke="#5c6470" stroke-width="0.8"/>
<line x1="360.8" y1="171.1" x2="402" y2="171.1" stroke="#5c6470" stroke-width="0.8"/>
<text x="346.9" y="151.6" font-size="4.2" text-anchor="middle" font-weight="bold" fill="#444" transform="rotate(-90 346.9 151.6)" textLength="37" lengthAdjust="spacingAndGlyphs">Relative expression</text>
<text x="418.09999999999997" y="173.1" font-size="4.1" text-anchor="end" font-weight="bold" fill="#222">0</text>
<text x="418.09999999999997" y="166.26666666666665" font-size="4.1" text-anchor="end" font-weight="bold" fill="#222" textLength="3.8" lengthAdjust="spacingAndGlyphs">0.2</text>
<text x="418.09999999999997" y="159.43333333333334" font-size="4.1" text-anchor="end" font-weight="bold" fill="#222" textLength="3.8" lengthAdjust="spacingAndGlyphs">0.4</text>
<text x="418.09999999999997" y="152.6" font-size="4.1" text-anchor="end" font-weight="bold" fill="#222" textLength="3.8" lengthAdjust="spacingAndGlyphs">0.6</text>
<text x="418.09999999999997" y="145.76666666666665" font-size="4.1" text-anchor="end" font-weight="bold" fill="#222" textLength="3.8" lengthAdjust="spacingAndGlyphs">0.8</text>
<text x="418.09999999999997" y="138.9333333333333" font-size="4.1" text-anchor="end" font-weight="bold" fill="#222">1</text>
<text x="418.09999999999997" y="132.1" font-size="4.1" text-anchor="end" font-weight="bold" fill="#222" textLength="3.8" lengthAdjust="spacingAndGlyphs">1.2</text>
<rect x="422.9" y="137.53" width="2.3000000000000003" height="34.17" fill="#4472c4"/>
<line x1="424.055" y1="137.5333333333333" x2="424.055" y2="136.0276495290082" stroke="#555" stroke-width="0.3"/>
<line x1="423.455" y1="136.0276495290082" x2="424.65500000000003" y2="136.0276495290082" stroke="#555" stroke-width="0.3"/>
<text x="424.06" y="135.53" font-size="2.6" text-anchor="middle" fill="#555">**</text>
<rect x="425.35" y="162.47" width="2.3000000000000003" height="9.23" fill="#ed7d31"/>
<line x1="426.505" y1="162.475" x2="426.505" y2="161.77936044414426" stroke="#555" stroke-width="0.3"/>
<line x1="425.905" y1="161.77936044414426" x2="427.105" y2="161.77936044414426" stroke="#555" stroke-width="0.3"/>
<text x="426.5" y="161.28" font-size="2.6" text-anchor="middle" fill="#555">ns</text>
<rect x="427.8" y="164.87" width="2.3000000000000003" height="6.83" fill="#a5a5a5"/>
<line x1="428.955" y1="164.86666666666665" x2="428.955" y2="164.07753351606132" stroke="#555" stroke-width="0.3"/>
<line x1="428.35499999999996" y1="164.07753351606132" x2="429.555" y2="164.07753351606132" stroke="#555" stroke-width="0.3"/>
<text x="428.95" y="163.58" font-size="2.6" text-anchor="middle" fill="#555">***</text>
<rect x="430.25" y="164.87" width="2.3000000000000003" height="6.83" fill="#ffc000"/>
<line x1="431.40500000000003" y1="164.86666666666665" x2="431.40500000000003" y2="163.38144377628996" stroke="#555" stroke-width="0.3"/>
<line x1="430.805" y1="163.38144377628996" x2="432.00500000000005" y2="163.38144377628996" stroke="#555" stroke-width="0.3"/>
<text x="431.41" y="162.88" font-size="2.6" text-anchor="middle" fill="#555">***</text>
<text x="425.1" y="179.3" font-size="4.3" font-weight="bold" fill="#3a3a3a" textLength="6.0" lengthAdjust="spacingAndGlyphs">ID1</text>
<rect x="437.9" y="137.53" width="2.3000000000000003" height="34.17" fill="#4472c4"/>
<line x1="439.055" y1="137.5333333333333" x2="439.055" y2="136.63082608572464" stroke="#555" stroke-width="0.3"/>
<line x1="438.455" y1="136.63082608572464" x2="439.65500000000003" y2="136.63082608572464" stroke="#555" stroke-width="0.3"/>
<text x="439.06" y="136.13" font-size="2.6" text-anchor="middle" fill="#555">**</text>
<rect x="440.35" y="167.26" width="2.3000000000000003" height="4.44" fill="#ed7d31"/>
<line x1="441.505" y1="167.25833333333333" x2="441.505" y2="166.28363208912356" stroke="#555" stroke-width="0.3"/>
<line x1="440.905" y1="166.28363208912356" x2="442.105" y2="166.28363208912356" stroke="#555" stroke-width="0.3"/>
<text x="441.5" y="165.78" font-size="2.6" text-anchor="middle" fill="#555">***</text>
<rect x="442.8" y="169.65" width="2.3000000000000003" height="2.05" fill="#a5a5a5"/>
<line x1="443.955" y1="169.64999999999998" x2="443.955" y2="168.76986266712058" stroke="#555" stroke-width="0.3"/>
<line x1="443.35499999999996" y1="168.76986266712058" x2="444.555" y2="168.76986266712058" stroke="#555" stroke-width="0.3"/>
<text x="443.95" y="168.27" font-size="2.6" text-anchor="middle" fill="#555">ns</text>
<rect x="445.25" y="169.65" width="2.3000000000000003" height="2.05" fill="#ffc000"/>
<line x1="446.40500000000003" y1="169.64999999999998" x2="446.40500000000003" y2="168.88168693267022" stroke="#555" stroke-width="0.3"/>
<line x1="445.805" y1="168.88168693267022" x2="447.00500000000005" y2="168.88168693267022" stroke="#555" stroke-width="0.3"/>
<text x="446.41" y="168.38" font-size="2.6" text-anchor="middle" fill="#555">ns</text>
<text x="440.1" y="179.3" font-size="4.3" font-weight="bold" fill="#3a3a3a" textLength="6.0" lengthAdjust="spacingAndGlyphs">ID2</text>
<rect x="452.4" y="137.53" width="2.3000000000000003" height="34.17" fill="#4472c4"/>
<line x1="453.555" y1="137.5333333333333" x2="453.555" y2="136.679198041997" stroke="#555" stroke-width="0.3"/>
<line x1="452.955" y1="136.679198041997" x2="454.15500000000003" y2="136.679198041997" stroke="#555" stroke-width="0.3"/>
<text x="453.56" y="136.18" font-size="2.6" text-anchor="middle" fill="#555">**</text>
<rect x="454.85" y="157.35" width="2.3000000000000003" height="14.35" fill="#ed7d31"/>
<line x1="456.005" y1="157.35" x2="456.005" y2="155.8524043916583" stroke="#555" stroke-width="0.3"/>
<line x1="455.405" y1="155.8524043916583" x2="456.605" y2="155.8524043916583" stroke="#555" stroke-width="0.3"/>
<text x="456.0" y="155.35" font-size="2.6" text-anchor="middle" fill="#555">***</text>
<rect x="457.3" y="162.13" width="2.3000000000000003" height="9.57" fill="#a5a5a5"/>
<line x1="458.455" y1="162.13333333333333" x2="458.455" y2="160.67148902483913" stroke="#555" stroke-width="0.3"/>
<line x1="457.85499999999996" y1="160.67148902483913" x2="459.055" y2="160.67148902483913" stroke="#555" stroke-width="0.3"/>
<text x="458.45" y="160.17" font-size="2.6" text-anchor="middle" fill="#555">**</text>
<rect x="459.75" y="162.82" width="2.3000000000000003" height="8.88" fill="#ffc000"/>
<line x1="460.90500000000003" y1="162.81666666666666" x2="460.90500000000003" y2="161.85306176755833" stroke="#555" stroke-width="0.3"/>
<line x1="460.305" y1="161.85306176755833" x2="461.50500000000005" y2="161.85306176755833" stroke="#555" stroke-width="0.3"/>
<text x="460.91" y="161.35" font-size="2.6" text-anchor="middle" fill="#555">*</text>
<text x="454.6" y="179.3" font-size="4.3" font-weight="bold" fill="#3a3a3a" textLength="6.0" lengthAdjust="spacingAndGlyphs">ID3</text>
<line x1="421.3" y1="129.7" x2="421.3" y2="171.7" stroke="#5c6470" stroke-width="0.8"/>
<line x1="421.3" y1="171.7" x2="466.5" y2="171.7" stroke="#5c6470" stroke-width="0.8"/>
<text x="475.29999999999995" y="173.0" font-size="4.1" text-anchor="end" font-weight="bold" fill="#222">0</text>
<text x="475.29999999999995" y="166.26666666666668" font-size="4.1" text-anchor="end" font-weight="bold" fill="#222" textLength="3.8" lengthAdjust="spacingAndGlyphs">0.2</text>
<text x="475.29999999999995" y="159.53333333333333" font-size="4.1" text-anchor="end" font-weight="bold" fill="#222" textLength="3.8" lengthAdjust="spacingAndGlyphs">0.4</text>
<text x="475.29999999999995" y="152.79999999999998" font-size="4.1" text-anchor="end" font-weight="bold" fill="#222" textLength="3.8" lengthAdjust="spacingAndGlyphs">0.6</text>
<text x="475.29999999999995" y="146.06666666666666" font-size="4.1" text-anchor="end" font-weight="bold" fill="#222" textLength="3.8" lengthAdjust="spacingAndGlyphs">0.8</text>
<text x="475.29999999999995" y="139.33333333333334" font-size="4.1" text-anchor="end" font-weight="bold" fill="#222">1</text>
<text x="475.29999999999995" y="132.6" font-size="4.1" text-anchor="end" font-weight="bold" fill="#222" textLength="3.8" lengthAdjust="spacingAndGlyphs">1.2</text>
<rect x="478.8" y="137.93" width="2.3000000000000003" height="33.67" fill="#4472c4"/>
<line x1="479.95500000000004" y1="137.93333333333334" x2="479.95500000000004" y2="137.0664812888553" stroke="#555" stroke-width="0.3"/>
<line x1="479.355" y1="137.0664812888553" x2="480.55500000000006" y2="137.0664812888553" stroke="#555" stroke-width="0.3"/>
<text x="479.96" y="136.57" font-size="2.6" text-anchor="middle" fill="#555">**</text>
<rect x="481.25" y="146.01" width="2.3000000000000003" height="25.59" fill="#ed7d31"/>
<line x1="482.40500000000003" y1="146.01333333333332" x2="482.40500000000003" y2="144.67340564910532" stroke="#555" stroke-width="0.3"/>
<line x1="481.805" y1="144.67340564910532" x2="483.00500000000005" y2="144.67340564910532" stroke="#555" stroke-width="0.3"/>
<text x="482.41" y="144.17" font-size="2.6" text-anchor="middle" fill="#555">**</text>
<rect x="483.7" y="154.77" width="2.3000000000000003" height="16.83" fill="#a5a5a5"/>
<line x1="484.855" y1="154.76666666666665" x2="484.855" y2="153.700226807919" stroke="#555" stroke-width="0.3"/>
<line x1="484.255" y1="153.700226807919" x2="485.45500000000004" y2="153.700226807919" stroke="#555" stroke-width="0.3"/>
<text x="484.86" y="153.2" font-size="2.6" text-anchor="middle" fill="#555">***</text>
<rect x="486.15" y="159.48" width="2.3000000000000003" height="12.12" fill="#ffc000"/>
<line x1="487.30500000000006" y1="159.48" x2="487.30500000000006" y2="158.61781768218287" stroke="#555" stroke-width="0.3"/>
<line x1="486.70500000000004" y1="158.61781768218287" x2="487.9050000000001" y2="158.61781768218287" stroke="#555" stroke-width="0.3"/>
<text x="487.31" y="158.12" font-size="2.6" text-anchor="middle" fill="#555">*</text>
<text x="478.5" y="179.4" font-size="4.3" font-weight="bold" fill="#3a3a3a" textLength="11.0" lengthAdjust="spacingAndGlyphs">CCNB1</text>
<rect x="492.2" y="137.93" width="2.3000000000000003" height="33.67" fill="#4472c4"/>
<line x1="493.355" y1="137.93333333333334" x2="493.355" y2="137.1055139703155" stroke="#555" stroke-width="0.3"/>
<line x1="492.755" y1="137.1055139703155" x2="493.95500000000004" y2="137.1055139703155" stroke="#555" stroke-width="0.3"/>
<text x="493.36" y="136.61" font-size="2.6" text-anchor="middle" fill="#555">**</text>
<rect x="494.65" y="138.61" width="2.3000000000000003" height="32.99" fill="#ed7d31"/>
<line x1="495.805" y1="138.60666666666665" x2="495.805" y2="137.59027842585346" stroke="#555" stroke-width="0.3"/>
<line x1="495.205" y1="137.59027842585346" x2="496.40500000000003" y2="137.59027842585346" stroke="#555" stroke-width="0.3"/>
<text x="495.81" y="137.09" font-size="2.6" text-anchor="middle" fill="#555">*</text>
<rect x="497.1" y="145.34" width="2.3000000000000003" height="26.26" fill="#a5a5a5"/>
<line x1="498.255" y1="145.33999999999997" x2="498.255" y2="143.85768790769993" stroke="#555" stroke-width="0.3"/>
<line x1="497.655" y1="143.85768790769993" x2="498.855" y2="143.85768790769993" stroke="#555" stroke-width="0.3"/>
<text x="498.25" y="143.36" font-size="2.6" text-anchor="middle" fill="#555">***</text>
<rect x="499.55" y="153.76" width="2.3000000000000003" height="17.84" fill="#ffc000"/>
<line x1="500.70500000000004" y1="153.75666666666666" x2="500.70500000000004" y2="152.6187291526463" stroke="#555" stroke-width="0.3"/>
<line x1="500.105" y1="152.6187291526463" x2="501.30500000000006" y2="152.6187291526463" stroke="#555" stroke-width="0.3"/>
<text x="500.71" y="152.12" font-size="2.6" text-anchor="middle" fill="#555">**</text>
<text x="491.7" y="179.4" font-size="4.3" font-weight="bold" fill="#3a3a3a" textLength="11.4" lengthAdjust="spacingAndGlyphs">CCNA2</text>
<rect x="505.8" y="137.93" width="2.3000000000000003" height="33.67" fill="#4472c4"/>
<line x1="506.95500000000004" y1="137.93333333333334" x2="506.95500000000004" y2="136.56108074665687" stroke="#555" stroke-width="0.3"/>
<line x1="506.355" y1="136.56108074665687" x2="507.55500000000006" y2="136.56108074665687" stroke="#555" stroke-width="0.3"/>
<text x="506.96" y="136.06" font-size="2.6" text-anchor="middle" fill="#555">**</text>
<rect x="508.25" y="136.25" width="2.3000000000000003" height="35.35" fill="#ed7d31"/>
<line x1="509.40500000000003" y1="136.25" x2="509.40500000000003" y2="135.45894668496524" stroke="#555" stroke-width="0.3"/>
<line x1="508.805" y1="135.45894668496524" x2="510.00500000000005" y2="135.45894668496524" stroke="#555" stroke-width="0.3"/>
<text x="509.41" y="134.96" font-size="2.6" text-anchor="middle" fill="#555">ns</text>
<rect x="510.7" y="141.97" width="2.3000000000000003" height="29.63" fill="#a5a5a5"/>
<line x1="511.855" y1="141.97333333333333" x2="511.855" y2="140.21550636917718" stroke="#555" stroke-width="0.3"/>
<line x1="511.255" y1="140.21550636917718" x2="512.455" y2="140.21550636917718" stroke="#555" stroke-width="0.3"/>
<text x="511.86" y="139.72" font-size="2.6" text-anchor="middle" fill="#555">**</text>
<rect x="513.15" y="147.36" width="2.3000000000000003" height="24.24" fill="#ffc000"/>
<line x1="514.305" y1="147.35999999999999" x2="514.305" y2="145.7186310525642" stroke="#555" stroke-width="0.3"/>
<line x1="513.7049999999999" y1="145.7186310525642" x2="514.905" y2="145.7186310525642" stroke="#555" stroke-width="0.3"/>
<text x="514.3" y="145.22" font-size="2.6" text-anchor="middle" fill="#555">ns</text>
<text x="506.3" y="179.4" font-size="4.3" font-weight="bold" fill="#3a3a3a" textLength="9.4" lengthAdjust="spacingAndGlyphs">CDK1</text>
<line x1="477.7" y1="130.2" x2="477.7" y2="171.6" stroke="#5c6470" stroke-width="0.8"/>
<line x1="477.7" y1="171.6" x2="517.5" y2="171.6" stroke="#5c6470" stroke-width="0.8"/>
<text x="360.29999999999995" y="225.70000000000002" font-size="4.1" text-anchor="end" font-weight="bold" fill="#222">0</text>
<text x="360.29999999999995" y="218.83333333333334" font-size="4.1" text-anchor="end" font-weight="bold" fill="#222" textLength="3.8" lengthAdjust="spacingAndGlyphs">0.2</text>
<text x="360.29999999999995" y="211.96666666666667" font-size="4.1" text-anchor="end" font-weight="bold" fill="#222" textLength="3.8" lengthAdjust="spacingAndGlyphs">0.4</text>
<text x="360.29999999999995" y="205.1" font-size="4.1" text-anchor="end" font-weight="bold" fill="#222" textLength="3.8" lengthAdjust="spacingAndGlyphs">0.6</text>
<text x="360.29999999999995" y="198.23333333333332" font-size="4.1" text-anchor="end" font-weight="bold" fill="#222" textLength="3.8" lengthAdjust="spacingAndGlyphs">0.8</text>
<text x="360.29999999999995" y="191.36666666666667" font-size="4.1" text-anchor="end" font-weight="bold" fill="#222">1</text>
<text x="360.29999999999995" y="184.5" font-size="4.1" text-anchor="end" font-weight="bold" fill="#222" textLength="3.8" lengthAdjust="spacingAndGlyphs">1.2</text>
<rect x="364.8" y="189.97" width="2.3000000000000003" height="34.33" fill="#4472c4"/>
<line x1="365.95500000000004" y1="189.96666666666667" x2="365.95500000000004" y2="188.6797911794163" stroke="#555" stroke-width="0.3"/>
<line x1="365.355" y1="188.6797911794163" x2="366.55500000000006" y2="188.6797911794163" stroke="#555" stroke-width="0.3"/>
<text x="365.96" y="188.18" font-size="2.6" text-anchor="middle" fill="#555">**</text>
<rect x="367.25" y="193.4" width="2.3000000000000003" height="30.9" fill="#ed7d31"/>
<line x1="368.40500000000003" y1="193.4" x2="368.40500000000003" y2="192.1947198944002" stroke="#555" stroke-width="0.3"/>
<line x1="367.805" y1="192.1947198944002" x2="369.00500000000005" y2="192.1947198944002" stroke="#555" stroke-width="0.3"/>
<text x="368.41" y="191.69" font-size="2.6" text-anchor="middle" fill="#555">***</text>
<rect x="369.7" y="196.15" width="2.3000000000000003" height="28.15" fill="#a5a5a5"/>
<line x1="370.855" y1="196.14666666666668" x2="370.855" y2="195.41616849988563" stroke="#555" stroke-width="0.3"/>
<line x1="370.255" y1="195.41616849988563" x2="371.45500000000004" y2="195.41616849988563" stroke="#555" stroke-width="0.3"/>
<text x="370.86" y="194.92" font-size="2.6" text-anchor="middle" fill="#555">ns</text>
<rect x="372.15" y="192.37" width="2.3000000000000003" height="31.93" fill="#ffc000"/>
<line x1="373.30500000000006" y1="192.37" x2="373.30500000000006" y2="191.63507710171214" stroke="#555" stroke-width="0.3"/>
<line x1="372.70500000000004" y1="191.63507710171214" x2="373.9050000000001" y2="191.63507710171214" stroke="#555" stroke-width="0.3"/>
<text x="373.31" y="191.14" font-size="2.6" text-anchor="middle" fill="#555">**</text>
<text x="365.7" y="232.1" font-size="4.3" font-weight="bold" fill="#3a3a3a" textLength="8.6" lengthAdjust="spacingAndGlyphs">BCL2</text>
<rect x="379.6" y="189.97" width="2.3000000000000003" height="34.33" fill="#4472c4"/>
<line x1="380.75500000000005" y1="189.96666666666667" x2="380.75500000000005" y2="188.72793528013605" stroke="#555" stroke-width="0.3"/>
<line x1="380.15500000000003" y1="188.72793528013605" x2="381.3550000000001" y2="188.72793528013605" stroke="#555" stroke-width="0.3"/>
<text x="380.76" y="188.23" font-size="2.6" text-anchor="middle" fill="#555">**</text>
<rect x="382.05" y="194.09" width="2.3000000000000003" height="30.21" fill="#ed7d31"/>
<line x1="383.20500000000004" y1="194.08666666666667" x2="383.20500000000004" y2="192.96383605080297" stroke="#555" stroke-width="0.3"/>
<line x1="382.605" y1="192.96383605080297" x2="383.80500000000006" y2="192.96383605080297" stroke="#555" stroke-width="0.3"/>
<text x="383.21" y="192.46" font-size="2.6" text-anchor="middle" fill="#555">**</text>
<rect x="384.5" y="198.55" width="2.3000000000000003" height="25.75" fill="#a5a5a5"/>
<line x1="385.65500000000003" y1="198.55" x2="385.65500000000003" y2="197.83138840946873" stroke="#555" stroke-width="0.3"/>
<line x1="385.055" y1="197.83138840946873" x2="386.25500000000005" y2="197.83138840946873" stroke="#555" stroke-width="0.3"/>
<text x="385.66" y="197.33" font-size="2.6" text-anchor="middle" fill="#555">**</text>
<rect x="386.95" y="193.4" width="2.3000000000000003" height="30.9" fill="#ffc000"/>
<line x1="388.1050000000001" y1="193.4" x2="388.1050000000001" y2="192.11078328242147" stroke="#555" stroke-width="0.3"/>
<line x1="387.50500000000005" y1="192.11078328242147" x2="388.7050000000001" y2="192.11078328242147" stroke="#555" stroke-width="0.3"/>
<text x="388.11" y="191.61" font-size="2.6" text-anchor="middle" fill="#555">**</text>
<text x="379.6" y="232.1" font-size="4.3" font-weight="bold" fill="#3a3a3a" textLength="10.4" lengthAdjust="spacingAndGlyphs">BIRC3</text>
<rect x="394.0" y="189.97" width="2.3000000000000003" height="34.33" fill="#4472c4"/>
<line x1="395.15500000000003" y1="189.96666666666667" x2="395.15500000000003" y2="189.3512195201948" stroke="#555" stroke-width="0.3"/>
<line x1="394.555" y1="189.3512195201948" x2="395.75500000000005" y2="189.3512195201948" stroke="#555" stroke-width="0.3"/>
<text x="395.16" y="188.85" font-size="2.6" text-anchor="middle" fill="#555">**</text>
<rect x="396.45" y="191.0" width="2.3000000000000003" height="33.3" fill="#ed7d31"/>
<line x1="397.605" y1="190.99666666666667" x2="397.605" y2="190.12599506312222" stroke="#555" stroke-width="0.3"/>
<line x1="397.005" y1="190.12599506312222" x2="398.20500000000004" y2="190.12599506312222" stroke="#555" stroke-width="0.3"/>
<text x="397.61" y="189.63" font-size="2.6" text-anchor="middle" fill="#555">**</text>
<rect x="398.9" y="196.15" width="2.3000000000000003" height="28.15" fill="#a5a5a5"/>
<line x1="400.055" y1="196.14666666666668" x2="400.055" y2="194.58312680044577" stroke="#555" stroke-width="0.3"/>
<line x1="399.455" y1="194.58312680044577" x2="400.65500000000003" y2="194.58312680044577" stroke="#555" stroke-width="0.3"/>
<text x="400.06" y="194.08" font-size="2.6" text-anchor="middle" fill="#555">*</text>
<rect x="401.35" y="200.27" width="2.3000000000000003" height="24.03" fill="#ffc000"/>
<line x1="402.50500000000005" y1="200.26666666666668" x2="402.50500000000005" y2="199.04606112641227" stroke="#555" stroke-width="0.3"/>
<line x1="401.90500000000003" y1="199.04606112641227" x2="403.1050000000001" y2="199.04606112641227" stroke="#555" stroke-width="0.3"/>
<text x="402.51" y="198.55" font-size="2.6" text-anchor="middle" fill="#555">*</text>
<text x="394.0" y="232.1" font-size="4.3" font-weight="bold" fill="#3a3a3a" textLength="10.4" lengthAdjust="spacingAndGlyphs">BIRC5</text>
<line x1="362.6" y1="182.1" x2="362.6" y2="224.3" stroke="#5c6470" stroke-width="0.8"/>
<line x1="362.6" y1="224.3" x2="404" y2="224.3" stroke="#5c6470" stroke-width="0.8"/>
<text x="346.0" y="204" font-size="4.2" text-anchor="middle" font-weight="bold" fill="#444" transform="rotate(-90 346.0 204)" textLength="37" lengthAdjust="spacingAndGlyphs">Relative expression</text>
<text x="415.09999999999997" y="225.5" font-size="4.1" text-anchor="end" font-weight="bold" fill="#222">0</text>
<text x="415.09999999999997" y="218.56666666666666" font-size="4.1" text-anchor="end" font-weight="bold" fill="#222" textLength="3.8" lengthAdjust="spacingAndGlyphs">0.2</text>
<text x="415.09999999999997" y="211.63333333333333" font-size="4.1" text-anchor="end" font-weight="bold" fill="#222" textLength="3.8" lengthAdjust="spacingAndGlyphs">0.4</text>
<text x="415.09999999999997" y="204.7" font-size="4.1" text-anchor="end" font-weight="bold" fill="#222" textLength="3.8" lengthAdjust="spacingAndGlyphs">0.6</text>
<text x="415.09999999999997" y="197.76666666666668" font-size="4.1" text-anchor="end" font-weight="bold" fill="#222" textLength="3.8" lengthAdjust="spacingAndGlyphs">0.8</text>
<text x="415.09999999999997" y="190.83333333333334" font-size="4.1" text-anchor="end" font-weight="bold" fill="#222">1</text>
<text x="415.09999999999997" y="183.9" font-size="4.1" text-anchor="end" font-weight="bold" fill="#222" textLength="3.8" lengthAdjust="spacingAndGlyphs">1.2</text>
<rect x="419.7" y="189.43" width="2.3000000000000003" height="34.67" fill="#4472c4"/>
<line x1="420.855" y1="189.43333333333334" x2="420.855" y2="188.56290889894012" stroke="#555" stroke-width="0.3"/>
<line x1="420.255" y1="188.56290889894012" x2="421.45500000000004" y2="188.56290889894012" stroke="#555" stroke-width="0.3"/>
<text x="420.86" y="188.06" font-size="2.6" text-anchor="middle" fill="#555">**</text>
<rect x="422.15" y="199.14" width="2.3000000000000003" height="24.96" fill="#ed7d31"/>
<line x1="423.305" y1="199.14" x2="423.305" y2="197.97894466202058" stroke="#555" stroke-width="0.3"/>
<line x1="422.705" y1="197.97894466202058" x2="423.90500000000003" y2="197.97894466202058" stroke="#555" stroke-width="0.3"/>
<text x="423.31" y="197.48" font-size="2.6" text-anchor="middle" fill="#555">ns</text>
<rect x="424.6" y="203.3" width="2.3000000000000003" height="20.8" fill="#a5a5a5"/>
<line x1="425.755" y1="203.3" x2="425.755" y2="202.30966109157436" stroke="#555" stroke-width="0.3"/>
<line x1="425.155" y1="202.30966109157436" x2="426.355" y2="202.30966109157436" stroke="#555" stroke-width="0.3"/>
<text x="425.75" y="201.81" font-size="2.6" text-anchor="middle" fill="#555">**</text>
<rect x="427.05" y="204.34" width="2.3000000000000003" height="19.76" fill="#ffc000"/>
<line x1="428.20500000000004" y1="204.34" x2="428.20500000000004" y2="203.1647229942703" stroke="#555" stroke-width="0.3"/>
<line x1="427.605" y1="203.1647229942703" x2="428.80500000000006" y2="203.1647229942703" stroke="#555" stroke-width="0.3"/>
<text x="428.21" y="202.66" font-size="2.6" text-anchor="middle" fill="#555">**</text>
<text x="421.9" y="232.1" font-size="4.3" font-weight="bold" fill="#3a3a3a" textLength="6.0" lengthAdjust="spacingAndGlyphs">ID1</text>
<rect x="434.5" y="189.43" width="2.3000000000000003" height="34.67" fill="#4472c4"/>
<line x1="435.65500000000003" y1="189.43333333333334" x2="435.65500000000003" y2="188.13729320664527" stroke="#555" stroke-width="0.3"/>
<line x1="435.055" y1="188.13729320664527" x2="436.25500000000005" y2="188.13729320664527" stroke="#555" stroke-width="0.3"/>
<text x="435.66" y="187.64" font-size="2.6" text-anchor="middle" fill="#555">**</text>
<rect x="436.95" y="199.83" width="2.3000000000000003" height="24.27" fill="#ed7d31"/>
<line x1="438.105" y1="199.83333333333334" x2="438.105" y2="198.70229969440746" stroke="#555" stroke-width="0.3"/>
<line x1="437.505" y1="198.70229969440746" x2="438.70500000000004" y2="198.70229969440746" stroke="#555" stroke-width="0.3"/>
<text x="438.11" y="198.2" font-size="2.6" text-anchor="middle" fill="#555">**</text>
<rect x="439.4" y="200.53" width="2.3000000000000003" height="23.57" fill="#a5a5a5"/>
<line x1="440.555" y1="200.52666666666667" x2="440.555" y2="199.86170759979362" stroke="#555" stroke-width="0.3"/>
<line x1="439.955" y1="199.86170759979362" x2="441.15500000000003" y2="199.86170759979362" stroke="#555" stroke-width="0.3"/>
<text x="440.56" y="199.36" font-size="2.6" text-anchor="middle" fill="#555">ns</text>
<rect x="441.85" y="202.26" width="2.3000000000000003" height="21.84" fill="#ffc000"/>
<line x1="443.00500000000005" y1="202.26" x2="443.00500000000005" y2="201.07397838673072" stroke="#555" stroke-width="0.3"/>
<line x1="442.40500000000003" y1="201.07397838673072" x2="443.6050000000001" y2="201.07397838673072" stroke="#555" stroke-width="0.3"/>
<text x="443.01" y="200.57" font-size="2.6" text-anchor="middle" fill="#555">**</text>
<text x="436.7" y="232.1" font-size="4.3" font-weight="bold" fill="#3a3a3a" textLength="6.0" lengthAdjust="spacingAndGlyphs">ID2</text>
<rect x="448.9" y="189.43" width="2.3000000000000003" height="34.67" fill="#4472c4"/>
<line x1="450.055" y1="189.43333333333334" x2="450.055" y2="187.75687728442" stroke="#555" stroke-width="0.3"/>
<line x1="449.455" y1="187.75687728442" x2="450.65500000000003" y2="187.75687728442" stroke="#555" stroke-width="0.3"/>
<text x="450.06" y="187.26" font-size="2.6" text-anchor="middle" fill="#555">**</text>
<rect x="451.35" y="195.33" width="2.3000000000000003" height="28.77" fill="#ed7d31"/>
<line x1="452.505" y1="195.32666666666665" x2="452.505" y2="194.65839344081323" stroke="#555" stroke-width="0.3"/>
<line x1="451.905" y1="194.65839344081323" x2="453.105" y2="194.65839344081323" stroke="#555" stroke-width="0.3"/>
<text x="452.5" y="194.16" font-size="2.6" text-anchor="middle" fill="#555">***</text>
<rect x="453.8" y="202.26" width="2.3000000000000003" height="21.84" fill="#a5a5a5"/>
<line x1="454.955" y1="202.26" x2="454.955" y2="201.31869214244176" stroke="#555" stroke-width="0.3"/>
<line x1="454.35499999999996" y1="201.31869214244176" x2="455.555" y2="201.31869214244176" stroke="#555" stroke-width="0.3"/>
<text x="454.95" y="200.82" font-size="2.6" text-anchor="middle" fill="#555">*</text>
<rect x="456.25" y="201.57" width="2.3000000000000003" height="22.53" fill="#ffc000"/>
<line x1="457.40500000000003" y1="201.56666666666666" x2="457.40500000000003" y2="200.5006204470638" stroke="#555" stroke-width="0.3"/>
<line x1="456.805" y1="200.5006204470638" x2="458.00500000000005" y2="200.5006204470638" stroke="#555" stroke-width="0.3"/>
<text x="457.41" y="200.0" font-size="2.6" text-anchor="middle" fill="#555">***</text>
<text x="451.1" y="232.1" font-size="4.3" font-weight="bold" fill="#3a3a3a" textLength="6.0" lengthAdjust="spacingAndGlyphs">ID3</text>
<line x1="418.3" y1="181.5" x2="418.3" y2="224.1" stroke="#5c6470" stroke-width="0.8"/>
<line x1="418.3" y1="224.1" x2="462" y2="224.1" stroke="#5c6470" stroke-width="0.8"/>
<text x="473.2" y="225.5" font-size="4.1" text-anchor="end" font-weight="bold" fill="#222">0</text>
<text x="473.2" y="218.6" font-size="4.1" text-anchor="end" font-weight="bold" fill="#222" textLength="3.8" lengthAdjust="spacingAndGlyphs">0.2</text>
<text x="473.2" y="211.7" font-size="4.1" text-anchor="end" font-weight="bold" fill="#222" textLength="3.8" lengthAdjust="spacingAndGlyphs">0.4</text>
<text x="473.2" y="204.79999999999998" font-size="4.1" text-anchor="end" font-weight="bold" fill="#222" textLength="3.8" lengthAdjust="spacingAndGlyphs">0.6</text>
<text x="473.2" y="197.9" font-size="4.1" text-anchor="end" font-weight="bold" fill="#222" textLength="3.8" lengthAdjust="spacingAndGlyphs">0.8</text>
<text x="473.2" y="191.0" font-size="4.1" text-anchor="end" font-weight="bold" fill="#222">1</text>
<text x="473.2" y="184.1" font-size="4.1" text-anchor="end" font-weight="bold" fill="#222" textLength="3.8" lengthAdjust="spacingAndGlyphs">1.2</text>
<rect x="477.9" y="189.6" width="2.3000000000000003" height="34.5" fill="#4472c4"/>
<line x1="479.055" y1="189.6" x2="479.055" y2="188.24429315603243" stroke="#555" stroke-width="0.3"/>
<line x1="478.455" y1="188.24429315603243" x2="479.65500000000003" y2="188.24429315603243" stroke="#555" stroke-width="0.3"/>
<text x="479.06" y="187.74" font-size="2.6" text-anchor="middle" fill="#555">**</text>
<rect x="480.35" y="193.74" width="2.3000000000000003" height="30.36" fill="#ed7d31"/>
<line x1="481.505" y1="193.73999999999998" x2="481.505" y2="192.7988734449368" stroke="#555" stroke-width="0.3"/>
<line x1="480.905" y1="192.7988734449368" x2="482.105" y2="192.7988734449368" stroke="#555" stroke-width="0.3"/>
<text x="481.5" y="192.3" font-size="2.6" text-anchor="middle" fill="#555">***</text>
<rect x="482.8" y="200.64" width="2.3000000000000003" height="23.46" fill="#a5a5a5"/>
<line x1="483.955" y1="200.64" x2="483.955" y2="199.49787603818018" stroke="#555" stroke-width="0.3"/>
<line x1="483.35499999999996" y1="199.49787603818018" x2="484.555" y2="199.49787603818018" stroke="#555" stroke-width="0.3"/>
<text x="483.95" y="199.0" font-size="2.6" text-anchor="middle" fill="#555">ns</text>
<rect x="485.25" y="203.4" width="2.3000000000000003" height="20.7" fill="#ffc000"/>
<line x1="486.40500000000003" y1="203.39999999999998" x2="486.40500000000003" y2="201.7591908487209" stroke="#555" stroke-width="0.3"/>
<line x1="485.805" y1="201.7591908487209" x2="487.00500000000005" y2="201.7591908487209" stroke="#555" stroke-width="0.3"/>
<text x="486.41" y="201.26" font-size="2.6" text-anchor="middle" fill="#555">***</text>
<text x="477.6" y="232.1" font-size="4.3" font-weight="bold" fill="#3a3a3a" textLength="11.0" lengthAdjust="spacingAndGlyphs">CCNB1</text>
<rect x="491.6" y="189.6" width="2.3000000000000003" height="34.5" fill="#4472c4"/>
<line x1="492.75500000000005" y1="189.6" x2="492.75500000000005" y2="188.48908343126274" stroke="#555" stroke-width="0.3"/>
<line x1="492.15500000000003" y1="188.48908343126274" x2="493.3550000000001" y2="188.48908343126274" stroke="#555" stroke-width="0.3"/>
<text x="492.76" y="187.99" font-size="2.6" text-anchor="middle" fill="#555">**</text>
<rect x="494.05" y="192.36" width="2.3000000000000003" height="31.74" fill="#ed7d31"/>
<line x1="495.20500000000004" y1="192.35999999999999" x2="495.20500000000004" y2="191.12432836369945" stroke="#555" stroke-width="0.3"/>
<line x1="494.605" y1="191.12432836369945" x2="495.80500000000006" y2="191.12432836369945" stroke="#555" stroke-width="0.3"/>
<text x="495.21" y="190.62" font-size="2.6" text-anchor="middle" fill="#555">ns</text>
<rect x="496.5" y="197.19" width="2.3000000000000003" height="26.91" fill="#a5a5a5"/>
<line x1="497.65500000000003" y1="197.19" x2="497.65500000000003" y2="196.4093289049011" stroke="#555" stroke-width="0.3"/>
<line x1="497.055" y1="196.4093289049011" x2="498.25500000000005" y2="196.4093289049011" stroke="#555" stroke-width="0.3"/>
<text x="497.66" y="195.91" font-size="2.6" text-anchor="middle" fill="#555">ns</text>
<rect x="498.95" y="200.64" width="2.3000000000000003" height="23.46" fill="#ffc000"/>
<line x1="500.1050000000001" y1="200.64" x2="500.1050000000001" y2="198.87870607135167" stroke="#555" stroke-width="0.3"/>
<line x1="499.50500000000005" y1="198.87870607135167" x2="500.7050000000001" y2="198.87870607135167" stroke="#555" stroke-width="0.3"/>
<text x="500.11" y="198.38" font-size="2.6" text-anchor="middle" fill="#555">**</text>
<text x="491.1" y="232.1" font-size="4.3" font-weight="bold" fill="#3a3a3a" textLength="11.4" lengthAdjust="spacingAndGlyphs">CCNA2</text>
<rect x="505.9" y="189.6" width="2.3000000000000003" height="34.5" fill="#4472c4"/>
<line x1="507.055" y1="189.6" x2="507.055" y2="188.73702173953527" stroke="#555" stroke-width="0.3"/>
<line x1="506.455" y1="188.73702173953527" x2="507.65500000000003" y2="188.73702173953527" stroke="#555" stroke-width="0.3"/>
<text x="507.06" y="188.24" font-size="2.6" text-anchor="middle" fill="#555">**</text>
<rect x="508.35" y="192.01" width="2.3000000000000003" height="32.09" fill="#ed7d31"/>
<line x1="509.505" y1="192.015" x2="509.505" y2="191.28251211101872" stroke="#555" stroke-width="0.3"/>
<line x1="508.905" y1="191.28251211101872" x2="510.105" y2="191.28251211101872" stroke="#555" stroke-width="0.3"/>
<text x="509.5" y="190.78" font-size="2.6" text-anchor="middle" fill="#555">**</text>
<rect x="510.8" y="195.46" width="2.3000000000000003" height="28.64" fill="#a5a5a5"/>
<line x1="511.955" y1="195.46499999999997" x2="511.955" y2="193.73484374531964" stroke="#555" stroke-width="0.3"/>
<line x1="511.35499999999996" y1="193.73484374531964" x2="512.555" y2="193.73484374531964" stroke="#555" stroke-width="0.3"/>
<text x="511.95" y="193.23" font-size="2.6" text-anchor="middle" fill="#555">***</text>
<rect x="513.25" y="198.22" width="2.3000000000000003" height="25.88" fill="#ffc000"/>
<line x1="514.405" y1="198.225" x2="514.405" y2="196.8605619395725" stroke="#555" stroke-width="0.3"/>
<line x1="513.805" y1="196.8605619395725" x2="515.005" y2="196.8605619395725" stroke="#555" stroke-width="0.3"/>
<text x="514.4" y="196.36" font-size="2.6" text-anchor="middle" fill="#555">***</text>
<text x="506.4" y="232.1" font-size="4.3" font-weight="bold" fill="#3a3a3a" textLength="9.4" lengthAdjust="spacingAndGlyphs">CDK1</text>
<line x1="476.0" y1="181.7" x2="476.0" y2="224.1" stroke="#5c6470" stroke-width="0.8"/>
<line x1="476.0" y1="224.1" x2="516.5" y2="224.1" stroke="#5c6470" stroke-width="0.8"/>
<text x="360.29999999999995" y="276.0" font-size="4.1" text-anchor="end" font-weight="bold" fill="#222">0</text>
<text x="360.29999999999995" y="270.4428571428571" font-size="4.1" text-anchor="end" font-weight="bold" fill="#222" textLength="3.8" lengthAdjust="spacingAndGlyphs">0.2</text>
<text x="360.29999999999995" y="264.8857142857143" font-size="4.1" text-anchor="end" font-weight="bold" fill="#222" textLength="3.8" lengthAdjust="spacingAndGlyphs">0.4</text>
<text x="360.29999999999995" y="259.3285714285714" font-size="4.1" text-anchor="end" font-weight="bold" fill="#222" textLength="3.8" lengthAdjust="spacingAndGlyphs">0.6</text>
<text x="360.29999999999995" y="253.77142857142857" font-size="4.1" text-anchor="end" font-weight="bold" fill="#222" textLength="3.8" lengthAdjust="spacingAndGlyphs">0.8</text>
<text x="360.29999999999995" y="248.21428571428572" font-size="4.1" text-anchor="end" font-weight="bold" fill="#222">1</text>
<text x="360.29999999999995" y="242.65714285714284" font-size="4.1" text-anchor="end" font-weight="bold" fill="#222" textLength="3.8" lengthAdjust="spacingAndGlyphs">1.2</text>
<text x="360.29999999999995" y="237.1" font-size="4.1" text-anchor="end" font-weight="bold" fill="#222" textLength="3.8" lengthAdjust="spacingAndGlyphs">1.4</text>
<rect x="364.9" y="246.26" width="2.3000000000000003" height="28.34" fill="#4472c4"/>
<line x1="366.055" y1="246.25857142857143" x2="366.055" y2="245.02420414005118" stroke="#555" stroke-width="0.3"/>
<line x1="365.455" y1="245.02420414005118" x2="366.65500000000003" y2="245.02420414005118" stroke="#555" stroke-width="0.3"/>
<text x="366.06" y="244.52" font-size="2.6" text-anchor="middle" fill="#555">**</text>
<rect x="367.35" y="250.43" width="2.3000000000000003" height="24.17" fill="#ed7d31"/>
<line x1="368.505" y1="250.42642857142857" x2="368.505" y2="249.1291783305218" stroke="#555" stroke-width="0.3"/>
<line x1="367.905" y1="249.1291783305218" x2="369.105" y2="249.1291783305218" stroke="#555" stroke-width="0.3"/>
<text x="368.5" y="248.63" font-size="2.6" text-anchor="middle" fill="#555">**</text>
<rect x="369.8" y="252.37" width="2.3000000000000003" height="22.23" fill="#a5a5a5"/>
<line x1="370.955" y1="252.37142857142857" x2="370.955" y2="250.70357219391664" stroke="#555" stroke-width="0.3"/>
<line x1="370.35499999999996" y1="250.70357219391664" x2="371.555" y2="250.70357219391664" stroke="#555" stroke-width="0.3"/>
<text x="370.95" y="250.2" font-size="2.6" text-anchor="middle" fill="#555">ns</text>
<rect x="372.25" y="255.15" width="2.3000000000000003" height="19.45" fill="#ffc000"/>
<line x1="373.40500000000003" y1="255.15" x2="373.40500000000003" y2="253.88117776965996" stroke="#555" stroke-width="0.3"/>
<line x1="372.805" y1="253.88117776965996" x2="374.00500000000005" y2="253.88117776965996" stroke="#555" stroke-width="0.3"/>
<text x="373.41" y="253.38" font-size="2.6" text-anchor="middle" fill="#555">**</text>
<text x="365.8" y="282.1" font-size="4.3" font-weight="bold" fill="#3a3a3a" textLength="8.6" lengthAdjust="spacingAndGlyphs">BCL2</text>
<rect x="379.7" y="246.81" width="2.3000000000000003" height="27.79" fill="#4472c4"/>
<line x1="380.855" y1="246.81428571428572" x2="380.855" y2="245.38084871133466" stroke="#555" stroke-width="0.3"/>
<line x1="380.255" y1="245.38084871133466" x2="381.45500000000004" y2="245.38084871133466" stroke="#555" stroke-width="0.3"/>
<text x="380.86" y="244.88" font-size="2.6" text-anchor="middle" fill="#555">**</text>
<rect x="382.15" y="247.65" width="2.3000000000000003" height="26.95" fill="#ed7d31"/>
<line x1="383.305" y1="247.64785714285713" x2="383.305" y2="246.2331147441402" stroke="#555" stroke-width="0.3"/>
<line x1="382.705" y1="246.2331147441402" x2="383.90500000000003" y2="246.2331147441402" stroke="#555" stroke-width="0.3"/>
<text x="383.31" y="245.73" font-size="2.6" text-anchor="middle" fill="#555">***</text>
<rect x="384.6" y="245.42" width="2.3000000000000003" height="29.18" fill="#a5a5a5"/>
<line x1="385.755" y1="245.42499999999998" x2="385.755" y2="244.0196650616459" stroke="#555" stroke-width="0.3"/>
<line x1="385.155" y1="244.0196650616459" x2="386.355" y2="244.0196650616459" stroke="#555" stroke-width="0.3"/>
<text x="385.75" y="243.52" font-size="2.6" text-anchor="middle" fill="#555">**</text>
<rect x="387.05" y="238.48" width="2.3000000000000003" height="36.12" fill="#ffc000"/>
<line x1="388.20500000000004" y1="238.4785714285714" x2="388.20500000000004" y2="236.90251106729139" stroke="#555" stroke-width="0.3"/>
<line x1="387.605" y1="236.90251106729139" x2="388.80500000000006" y2="236.90251106729139" stroke="#555" stroke-width="0.3"/>
<text x="388.21" y="236.4" font-size="2.6" text-anchor="middle" fill="#555">***</text>
<text x="379.7" y="282.1" font-size="4.3" font-weight="bold" fill="#3a3a3a" textLength="10.4" lengthAdjust="spacingAndGlyphs">BIRC3</text>
<rect x="394.1" y="246.81" width="2.3000000000000003" height="27.79" fill="#4472c4"/>
<line x1="395.25500000000005" y1="246.81428571428572" x2="395.25500000000005" y2="245.394509261462" stroke="#555" stroke-width="0.3"/>
<line x1="394.65500000000003" y1="245.394509261462" x2="395.8550000000001" y2="245.394509261462" stroke="#555" stroke-width="0.3"/>
<text x="395.26" y="244.89" font-size="2.6" text-anchor="middle" fill="#555">**</text>
<rect x="396.55" y="250.15" width="2.3000000000000003" height="24.45" fill="#ed7d31"/>
<line x1="397.70500000000004" y1="250.14857142857142" x2="397.70500000000004" y2="249.1636578265455" stroke="#555" stroke-width="0.3"/>
<line x1="397.105" y1="249.1636578265455" x2="398.30500000000006" y2="249.1636578265455" stroke="#555" stroke-width="0.3"/>
<text x="397.71" y="248.66" font-size="2.6" text-anchor="middle" fill="#555">***</text>
<rect x="399.0" y="254.32" width="2.3000000000000003" height="20.28" fill="#a5a5a5"/>
<line x1="400.15500000000003" y1="254.31642857142856" x2="400.15500000000003" y2="253.48130233026683" stroke="#555" stroke-width="0.3"/>
<line x1="399.555" y1="253.48130233026683" x2="400.75500000000005" y2="253.48130233026683" stroke="#555" stroke-width="0.3"/>
<text x="400.16" y="252.98" font-size="2.6" text-anchor="middle" fill="#555">ns</text>
<rect x="401.45" y="258.76" width="2.3000000000000003" height="15.84" fill="#ffc000"/>
<line x1="402.6050000000001" y1="258.76214285714286" x2="402.6050000000001" y2="257.13494707911076" stroke="#555" stroke-width="0.3"/>
<line x1="402.00500000000005" y1="257.13494707911076" x2="403.2050000000001" y2="257.13494707911076" stroke="#555" stroke-width="0.3"/>
<text x="402.61" y="256.63" font-size="2.6" text-anchor="middle" fill="#555">**</text>
<text x="394.1" y="282.1" font-size="4.3" font-weight="bold" fill="#3a3a3a" textLength="10.4" lengthAdjust="spacingAndGlyphs">BIRC5</text>
<line x1="362.9" y1="234.7" x2="362.9" y2="274.6" stroke="#5c6470" stroke-width="0.8"/>
<line x1="362.9" y1="274.6" x2="404" y2="274.6" stroke="#5c6470" stroke-width="0.8"/>
<text x="345.4" y="255" font-size="4.2" text-anchor="middle" font-weight="bold" fill="#444" transform="rotate(-90 345.4 255)" textLength="37" lengthAdjust="spacingAndGlyphs">Relative expression</text>
<text x="415.09999999999997" y="275.59999999999997" font-size="4.1" text-anchor="end" font-weight="bold" fill="#222">0</text>
<text x="415.09999999999997" y="269.1833333333333" font-size="4.1" text-anchor="end" font-weight="bold" fill="#222" textLength="3.8" lengthAdjust="spacingAndGlyphs">0.2</text>
<text x="415.09999999999997" y="262.76666666666665" font-size="4.1" text-anchor="end" font-weight="bold" fill="#222" textLength="3.8" lengthAdjust="spacingAndGlyphs">0.4</text>
<text x="415.09999999999997" y="256.34999999999997" font-size="4.1" text-anchor="end" font-weight="bold" fill="#222" textLength="3.8" lengthAdjust="spacingAndGlyphs">0.6</text>
<text x="415.09999999999997" y="249.9333333333333" font-size="4.1" text-anchor="end" font-weight="bold" fill="#222" textLength="3.8" lengthAdjust="spacingAndGlyphs">0.8</text>
<text x="415.09999999999997" y="243.51666666666665" font-size="4.1" text-anchor="end" font-weight="bold" fill="#222">1</text>
<text x="415.09999999999997" y="237.1" font-size="4.1" text-anchor="end" font-weight="bold" fill="#222" textLength="3.8" lengthAdjust="spacingAndGlyphs">1.2</text>
<rect x="420.2" y="242.12" width="2.3000000000000003" height="32.08" fill="#4472c4"/>
<line x1="421.355" y1="242.11666666666665" x2="421.355" y2="241.5162738842836" stroke="#555" stroke-width="0.3"/>
<line x1="420.755" y1="241.5162738842836" x2="421.95500000000004" y2="241.5162738842836" stroke="#555" stroke-width="0.3"/>
<text x="421.36" y="241.02" font-size="2.6" text-anchor="middle" fill="#555">**</text>
<rect x="422.65" y="248.53" width="2.3000000000000003" height="25.67" fill="#ed7d31"/>
<line x1="423.805" y1="248.5333333333333" x2="423.805" y2="247.2144521056223" stroke="#555" stroke-width="0.3"/>
<line x1="423.205" y1="247.2144521056223" x2="424.40500000000003" y2="247.2144521056223" stroke="#555" stroke-width="0.3"/>
<text x="423.81" y="246.71" font-size="2.6" text-anchor="middle" fill="#555">ns</text>
<rect x="425.1" y="251.74" width="2.3000000000000003" height="22.46" fill="#a5a5a5"/>
<line x1="426.255" y1="251.74166666666665" x2="426.255" y2="250.10535680472964" stroke="#555" stroke-width="0.3"/>
<line x1="425.655" y1="250.10535680472964" x2="426.855" y2="250.10535680472964" stroke="#555" stroke-width="0.3"/>
<text x="426.25" y="249.61" font-size="2.6" text-anchor="middle" fill="#555">*</text>
<rect x="427.55" y="257.52" width="2.3000000000000003" height="16.68" fill="#ffc000"/>
<line x1="428.70500000000004" y1="257.51666666666665" x2="428.70500000000004" y2="255.79040010147293" stroke="#555" stroke-width="0.3"/>
<line x1="428.105" y1="255.79040010147293" x2="429.30500000000006" y2="255.79040010147293" stroke="#555" stroke-width="0.3"/>
<text x="428.71" y="255.29" font-size="2.6" text-anchor="middle" fill="#555">***</text>
<text x="422.4" y="282.5" font-size="4.3" font-weight="bold" fill="#3a3a3a" textLength="6.0" lengthAdjust="spacingAndGlyphs">ID1</text>
<rect x="434.9" y="242.12" width="2.3000000000000003" height="32.08" fill="#4472c4"/>
<line x1="436.055" y1="242.11666666666665" x2="436.055" y2="240.47426682705012" stroke="#555" stroke-width="0.3"/>
<line x1="435.455" y1="240.47426682705012" x2="436.65500000000003" y2="240.47426682705012" stroke="#555" stroke-width="0.3"/>
<text x="436.06" y="239.97" font-size="2.6" text-anchor="middle" fill="#555">**</text>
<rect x="437.35" y="254.95" width="2.3000000000000003" height="19.25" fill="#ed7d31"/>
<line x1="438.505" y1="254.95" x2="438.505" y2="254.13793675514356" stroke="#555" stroke-width="0.3"/>
<line x1="437.905" y1="254.13793675514356" x2="439.105" y2="254.13793675514356" stroke="#555" stroke-width="0.3"/>
<text x="438.5" y="253.64" font-size="2.6" text-anchor="middle" fill="#555">***</text>
<rect x="439.8" y="259.12" width="2.3000000000000003" height="15.08" fill="#a5a5a5"/>
<line x1="440.955" y1="259.12083333333334" x2="440.955" y2="257.6707494755075" stroke="#555" stroke-width="0.3"/>
<line x1="440.35499999999996" y1="257.6707494755075" x2="441.555" y2="257.6707494755075" stroke="#555" stroke-width="0.3"/>
<text x="440.95" y="257.17" font-size="2.6" text-anchor="middle" fill="#555">*</text>
<rect x="442.25" y="263.61" width="2.3000000000000003" height="10.59" fill="#ffc000"/>
<line x1="443.40500000000003" y1="263.6125" x2="443.40500000000003" y2="262.24058921385017" stroke="#555" stroke-width="0.3"/>
<line x1="442.805" y1="262.24058921385017" x2="444.00500000000005" y2="262.24058921385017" stroke="#555" stroke-width="0.3"/>
<text x="443.41" y="261.74" font-size="2.6" text-anchor="middle" fill="#555">**</text>
<text x="437.1" y="282.5" font-size="4.3" font-weight="bold" fill="#3a3a3a" textLength="6.0" lengthAdjust="spacingAndGlyphs">ID2</text>
<rect x="449.8" y="242.12" width="2.3000000000000003" height="32.08" fill="#4472c4"/>
<line x1="450.95500000000004" y1="242.11666666666665" x2="450.95500000000004" y2="241.47202314656658" stroke="#555" stroke-width="0.3"/>
<line x1="450.355" y1="241.47202314656658" x2="451.55500000000006" y2="241.47202314656658" stroke="#555" stroke-width="0.3"/>
<text x="450.96" y="240.97" font-size="2.6" text-anchor="middle" fill="#555">**</text>
<rect x="452.25" y="243.72" width="2.3000000000000003" height="30.48" fill="#ed7d31"/>
<line x1="453.40500000000003" y1="243.72083333333333" x2="453.40500000000003" y2="242.04898211270935" stroke="#555" stroke-width="0.3"/>
<line x1="452.805" y1="242.04898211270935" x2="454.00500000000005" y2="242.04898211270935" stroke="#555" stroke-width="0.3"/>
<text x="453.41" y="241.55" font-size="2.6" text-anchor="middle" fill="#555">ns</text>
<rect x="454.7" y="248.53" width="2.3000000000000003" height="25.67" fill="#a5a5a5"/>
<line x1="455.855" y1="248.5333333333333" x2="455.855" y2="246.99963223356093" stroke="#555" stroke-width="0.3"/>
<line x1="455.255" y1="246.99963223356093" x2="456.45500000000004" y2="246.99963223356093" stroke="#555" stroke-width="0.3"/>
<text x="455.86" y="246.5" font-size="2.6" text-anchor="middle" fill="#555">**</text>
<rect x="457.15" y="251.1" width="2.3000000000000003" height="23.1" fill="#ffc000"/>
<line x1="458.30500000000006" y1="251.1" x2="458.30500000000006" y2="250.03736915642602" stroke="#555" stroke-width="0.3"/>
<line x1="457.70500000000004" y1="250.03736915642602" x2="458.9050000000001" y2="250.03736915642602" stroke="#555" stroke-width="0.3"/>
<text x="458.31" y="249.54" font-size="2.6" text-anchor="middle" fill="#555">***</text>
<text x="452.0" y="282.5" font-size="4.3" font-weight="bold" fill="#3a3a3a" textLength="6.0" lengthAdjust="spacingAndGlyphs">ID3</text>
<line x1="418.3" y1="234.7" x2="418.3" y2="274.2" stroke="#5c6470" stroke-width="0.8"/>
<line x1="418.3" y1="274.2" x2="463" y2="274.2" stroke="#5c6470" stroke-width="0.8"/>
<text x="474.59999999999997" y="276.4" font-size="4.1" text-anchor="end" font-weight="bold" fill="#222">0</text>
<text x="474.59999999999997" y="269.9833333333333" font-size="4.1" text-anchor="end" font-weight="bold" fill="#222" textLength="3.8" lengthAdjust="spacingAndGlyphs">0.2</text>
<text x="474.59999999999997" y="263.56666666666666" font-size="4.1" text-anchor="end" font-weight="bold" fill="#222" textLength="3.8" lengthAdjust="spacingAndGlyphs">0.4</text>
<text x="474.59999999999997" y="257.15" font-size="4.1" text-anchor="end" font-weight="bold" fill="#222" textLength="3.8" lengthAdjust="spacingAndGlyphs">0.6</text>
<text x="474.59999999999997" y="250.73333333333332" font-size="4.1" text-anchor="end" font-weight="bold" fill="#222" textLength="3.8" lengthAdjust="spacingAndGlyphs">0.8</text>
<text x="474.59999999999997" y="244.31666666666666" font-size="4.1" text-anchor="end" font-weight="bold" fill="#222">1</text>
<text x="474.59999999999997" y="237.9" font-size="4.1" text-anchor="end" font-weight="bold" fill="#222" textLength="3.8" lengthAdjust="spacingAndGlyphs">1.2</text>
<rect x="478.8" y="242.92" width="2.3000000000000003" height="32.08" fill="#4472c4"/>
<line x1="479.95500000000004" y1="242.91666666666666" x2="479.95500000000004" y2="242.0190025520517" stroke="#555" stroke-width="0.3"/>
<line x1="479.355" y1="242.0190025520517" x2="480.55500000000006" y2="242.0190025520517" stroke="#555" stroke-width="0.3"/>
<text x="479.96" y="241.52" font-size="2.6" text-anchor="middle" fill="#555">**</text>
<rect x="481.25" y="249.97" width="2.3000000000000003" height="25.03" fill="#ed7d31"/>
<line x1="482.40500000000003" y1="249.975" x2="482.40500000000003" y2="248.36195093965338" stroke="#555" stroke-width="0.3"/>
<line x1="481.805" y1="248.36195093965338" x2="483.00500000000005" y2="248.36195093965338" stroke="#555" stroke-width="0.3"/>
<text x="482.41" y="247.86" font-size="2.6" text-anchor="middle" fill="#555">***</text>
<rect x="483.7" y="253.18" width="2.3000000000000003" height="21.82" fill="#a5a5a5"/>
<line x1="484.855" y1="253.18333333333334" x2="484.855" y2="251.78265504051046" stroke="#555" stroke-width="0.3"/>
<line x1="484.255" y1="251.78265504051046" x2="485.45500000000004" y2="251.78265504051046" stroke="#555" stroke-width="0.3"/>
<text x="484.86" y="251.28" font-size="2.6" text-anchor="middle" fill="#555">*</text>
<rect x="486.15" y="258.96" width="2.3000000000000003" height="16.04" fill="#ffc000"/>
<line x1="487.30500000000006" y1="258.9583333333333" x2="487.30500000000006" y2="258.317170345144" stroke="#555" stroke-width="0.3"/>
<line x1="486.70500000000004" y1="258.317170345144" x2="487.9050000000001" y2="258.317170345144" stroke="#555" stroke-width="0.3"/>
<text x="487.31" y="257.82" font-size="2.6" text-anchor="middle" fill="#555">***</text>
<text x="478.5" y="282.8" font-size="4.3" font-weight="bold" fill="#3a3a3a" textLength="11.0" lengthAdjust="spacingAndGlyphs">CCNB1</text>
<rect x="493.0" y="242.92" width="2.3000000000000003" height="32.08" fill="#4472c4"/>
<line x1="494.15500000000003" y1="242.91666666666666" x2="494.15500000000003" y2="241.39341000713497" stroke="#555" stroke-width="0.3"/>
<line x1="493.555" y1="241.39341000713497" x2="494.75500000000005" y2="241.39341000713497" stroke="#555" stroke-width="0.3"/>
<text x="494.16" y="240.89" font-size="2.6" text-anchor="middle" fill="#555">**</text>
<rect x="495.45" y="249.33" width="2.3000000000000003" height="25.67" fill="#ed7d31"/>
<line x1="496.605" y1="249.33333333333331" x2="496.605" y2="247.67306060737877" stroke="#555" stroke-width="0.3"/>
<line x1="496.005" y1="247.67306060737877" x2="497.20500000000004" y2="247.67306060737877" stroke="#555" stroke-width="0.3"/>
<text x="496.61" y="247.17" font-size="2.6" text-anchor="middle" fill="#555">**</text>
<rect x="497.9" y="252.54" width="2.3000000000000003" height="22.46" fill="#a5a5a5"/>
<line x1="499.055" y1="252.54166666666666" x2="499.055" y2="251.51747297066402" stroke="#555" stroke-width="0.3"/>
<line x1="498.455" y1="251.51747297066402" x2="499.65500000000003" y2="251.51747297066402" stroke="#555" stroke-width="0.3"/>
<text x="499.06" y="251.02" font-size="2.6" text-anchor="middle" fill="#555">*</text>
<rect x="500.35" y="258.96" width="2.3000000000000003" height="16.04" fill="#ffc000"/>
<line x1="501.50500000000005" y1="258.9583333333333" x2="501.50500000000005" y2="258.14330752761146" stroke="#555" stroke-width="0.3"/>
<line x1="500.90500000000003" y1="258.14330752761146" x2="502.1050000000001" y2="258.14330752761146" stroke="#555" stroke-width="0.3"/>
<text x="501.51" y="257.64" font-size="2.6" text-anchor="middle" fill="#555">***</text>
<text x="492.5" y="282.8" font-size="4.3" font-weight="bold" fill="#3a3a3a" textLength="11.4" lengthAdjust="spacingAndGlyphs">CCNA2</text>
<rect x="507.0" y="242.92" width="2.3000000000000003" height="32.08" fill="#4472c4"/>
<line x1="508.15500000000003" y1="242.91666666666666" x2="508.15500000000003" y2="241.62083193027289" stroke="#555" stroke-width="0.3"/>
<line x1="507.555" y1="241.62083193027289" x2="508.75500000000005" y2="241.62083193027289" stroke="#555" stroke-width="0.3"/>
<text x="508.16" y="241.12" font-size="2.6" text-anchor="middle" fill="#555">**</text>
<rect x="509.45" y="248.69" width="2.3000000000000003" height="26.31" fill="#ed7d31"/>
<line x1="510.605" y1="248.69166666666666" x2="510.605" y2="247.67257603452373" stroke="#555" stroke-width="0.3"/>
<line x1="510.005" y1="247.67257603452373" x2="511.20500000000004" y2="247.67257603452373" stroke="#555" stroke-width="0.3"/>
<text x="510.61" y="247.17" font-size="2.6" text-anchor="middle" fill="#555">*</text>
<rect x="511.9" y="252.54" width="2.3000000000000003" height="22.46" fill="#a5a5a5"/>
<line x1="513.055" y1="252.54166666666666" x2="513.055" y2="251.7056156429777" stroke="#555" stroke-width="0.3"/>
<line x1="512.4549999999999" y1="251.7056156429777" x2="513.655" y2="251.7056156429777" stroke="#555" stroke-width="0.3"/>
<text x="513.05" y="251.21" font-size="2.6" text-anchor="middle" fill="#555">*</text>
<rect x="514.35" y="257.35" width="2.3000000000000003" height="17.65" fill="#ffc000"/>
<line x1="515.505" y1="257.3541666666667" x2="515.505" y2="256.2945691026732" stroke="#555" stroke-width="0.3"/>
<line x1="514.905" y1="256.2945691026732" x2="516.105" y2="256.2945691026732" stroke="#555" stroke-width="0.3"/>
<text x="515.5" y="255.79" font-size="2.6" text-anchor="middle" fill="#555">*</text>
<text x="507.5" y="282.8" font-size="4.3" font-weight="bold" fill="#3a3a3a" textLength="9.4" lengthAdjust="spacingAndGlyphs">CDK1</text>
<line x1="476.4" y1="235.5" x2="476.4" y2="275.0" stroke="#5c6470" stroke-width="0.8"/>
<line x1="476.4" y1="275.0" x2="517" y2="275.0" stroke="#5c6470" stroke-width="0.8"/>
<rect x="393.0" y="286.5" width="1.8" height="1.8" fill="#4472c4"/>
<text x="395.4" y="288.9" font-size="4.3" font-weight="bold" fill="#444" textLength="20" lengthAdjust="spacingAndGlyphs">0 &#956;mol/L</text>
<rect x="417.6" y="286.5" width="1.8" height="1.8" fill="#ed7d31"/>
<text x="420.2" y="288.9" font-size="4.3" font-weight="bold" fill="#444" textLength="21.8" lengthAdjust="spacingAndGlyphs">2.5 &#956;mol/L</text>
<rect x="444.0" y="286.5" width="1.8" height="1.8" fill="#a5a5a5"/>
<text x="447.2" y="288.9" font-size="4.3" font-weight="bold" fill="#444" textLength="19" lengthAdjust="spacingAndGlyphs">5 &#956;mol/L</text>
<rect x="468.7" y="286.5" width="1.8" height="1.8" fill="#ffc000"/>
<text x="471.6" y="288.9" font-size="4.3" font-weight="bold" fill="#444" textLength="20" lengthAdjust="spacingAndGlyphs">10 &#956;mol/L</text>
</svg></body></html>
